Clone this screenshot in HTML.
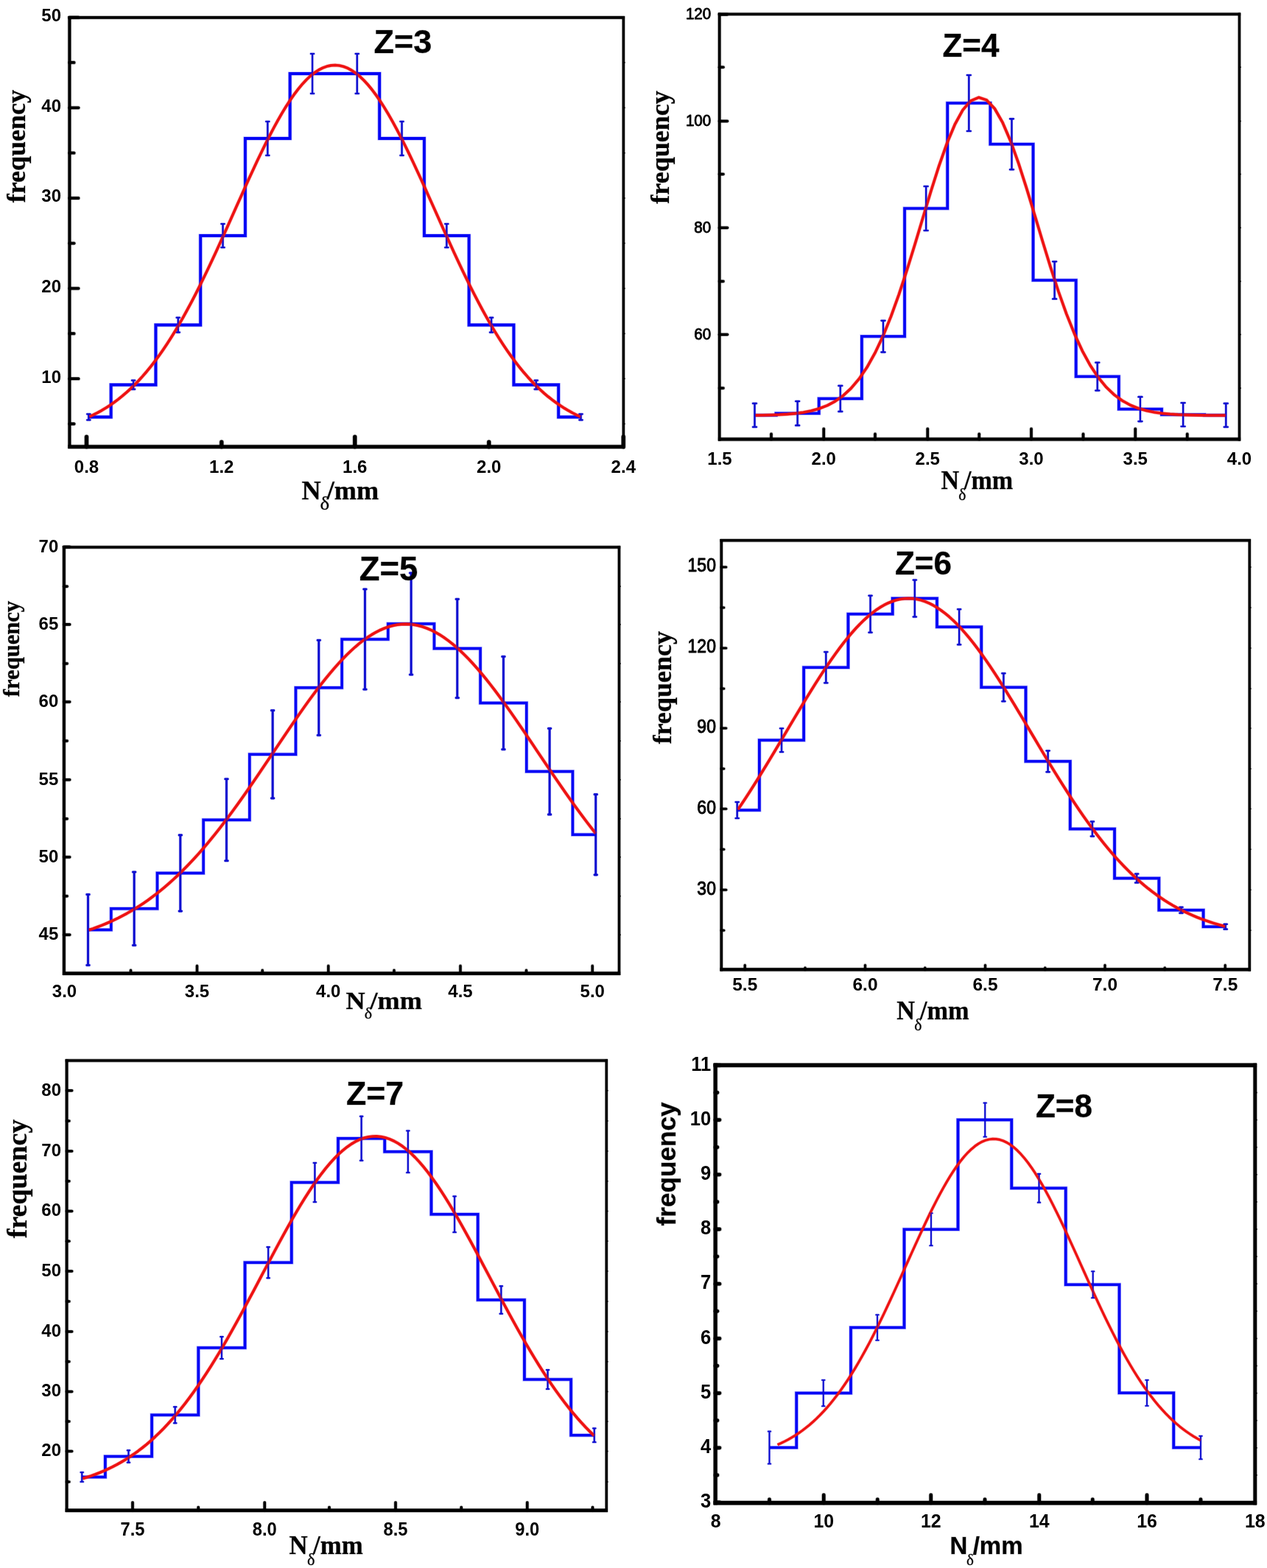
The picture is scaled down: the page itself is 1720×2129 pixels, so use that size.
<!DOCTYPE html>
<html lang="en">
<head>
<meta charset="utf-8">
<title>Frequency distributions Z=3 to Z=8</title>
<style>
html,body{margin:0;padding:0;background:#fff;}
body{width:1720px;height:2129px;overflow:hidden;}
svg{display:block;}
text{fill:#000;}
</style>
</head>
<body>
<svg width="1720" height="2129" viewBox="0 0 1720 2129">
<rect x="0" y="0" width="1720" height="2129" fill="#fff"/>
<g class="panel">
<path d="M120.3 566.25 H150.68 V522.5 H211.43 V441.25 H272.18 V320 H332.93 V188 H393.68 V100 H454.43 V100 H515.17 V188 H575.92 V320 H636.67 V441.25 H697.42 V522.5 H758.17 V566.25 H788.55" fill="none" stroke="#0505f5" stroke-opacity="0.38" stroke-width="5.1" stroke-linejoin="miter" stroke-linecap="butt"/>
<path d="M120.3 566.25 H150.68 V522.5 H211.43 V441.25 H272.18 V320 H332.93 V188 H393.68 V100 H454.43 V100 H515.17 V188 H575.92 V320 H636.67 V441.25 H697.42 V522.5 H758.17 V566.25 H788.55" fill="none" stroke="#0505f5" stroke-width="3.8" stroke-linejoin="miter" stroke-linecap="butt"/>
<path d="M120.3 562.25V570.25M118.2 562.25H122.4M118.2 570.25H122.4M181.05 516.5V528.5M178.95 516.5H183.15M178.95 528.5H183.15M241.8 431.25V451.25M239.7 431.25H243.9M239.7 451.25H243.9M302.55 304V336M300.45 304H304.65M300.45 336H304.65M363.3 165V211M361.2 165H365.4M361.2 211H365.4M424.05 73V127M421.95 73H426.15M421.95 127H426.15M484.8 73V127M482.7 73H486.9M482.7 127H486.9M545.55 165V211M543.45 165H547.65M543.45 211H547.65M606.3 304V336M604.2 304H608.4M604.2 336H608.4M667.05 431.25V451.25M664.95 431.25H669.15M664.95 451.25H669.15M727.8 516.5V528.5M725.7 516.5H729.9M725.7 528.5H729.9M788.55 562.25V570.25M786.45 562.25H790.65M786.45 570.25H790.65" fill="none" stroke="#0c0cd0" stroke-opacity="0.38" stroke-width="3.4" stroke-linejoin="miter" stroke-linecap="round"/>
<path d="M120.3 562.25V570.25M118.2 562.25H122.4M118.2 570.25H122.4M181.05 516.5V528.5M178.95 516.5H183.15M178.95 528.5H183.15M241.8 431.25V451.25M239.7 431.25H243.9M239.7 451.25H243.9M302.55 304V336M300.45 304H304.65M300.45 336H304.65M363.3 165V211M361.2 165H365.4M361.2 211H365.4M424.05 73V127M421.95 73H426.15M421.95 127H426.15M484.8 73V127M482.7 73H486.9M482.7 127H486.9M545.55 165V211M543.45 165H547.65M543.45 211H547.65M606.3 304V336M604.2 304H608.4M604.2 336H608.4M667.05 431.25V451.25M664.95 431.25H669.15M664.95 451.25H669.15M727.8 516.5V528.5M725.7 516.5H729.9M725.7 528.5H729.9M788.55 562.25V570.25M786.45 562.25H790.65M786.45 570.25H790.65" fill="none" stroke="#0c0cd0" stroke-width="2.1" stroke-linejoin="miter" stroke-linecap="round"/>
<polyline points="121.3,565.84 126.86,563.22 132.42,560.37 137.98,557.3 143.54,553.97 149.1,550.39 154.66,546.53 160.23,542.39 165.79,537.95 171.35,533.2 176.91,528.13 182.47,522.72 188.03,516.98 193.59,510.89 199.15,504.45 204.71,497.64 210.27,490.46 215.83,482.91 221.4,474.98 226.96,466.69 232.52,458.02 238.08,448.98 243.64,439.58 249.2,429.83 254.76,419.74 260.32,409.32 265.88,398.58 271.44,387.56 277,376.25 282.56,364.7 288.12,352.92 293.69,340.95 299.25,328.81 304.81,316.54 310.37,304.17 315.93,291.75 321.49,279.3 327.05,266.89 332.61,254.53 338.17,242.29 343.73,230.21 349.29,218.33 354.86,206.7 360.42,195.36 365.98,184.37 371.54,173.77 377.1,163.61 382.66,153.93 388.22,144.77 393.78,136.18 399.34,128.2 404.9,120.86 410.46,114.2 416.02,108.26 421.59,103.05 427.15,98.61 432.71,94.95 438.27,92.1 443.83,90.07 449.39,88.87 454.95,88.5 460.51,88.97 466.07,90.28 471.63,92.41 477.19,95.37 482.75,99.12 488.32,103.66 493.88,108.96 499.44,115 505,121.75 510.56,129.17 516.12,137.23 521.68,145.89 527.24,155.12 532.8,164.86 538.36,175.08 543.92,185.73 549.48,196.77 555.05,208.15 560.61,219.81 566.17,231.72 571.73,243.83 577.29,256.08 582.85,268.45 588.41,280.87 593.97,293.31 599.53,305.73 605.09,318.09 610.65,330.34 616.21,342.46 621.78,354.41 627.34,366.17 632.9,377.69 638.46,388.96 644.02,399.95 649.58,410.65 655.14,421.03 660.7,431.08 666.26,440.79 671.82,450.14 677.38,459.13 682.94,467.75 688.5,476 694.07,483.88 699.63,491.38 705.19,498.51 710.75,505.28 716.31,511.68 721.87,517.73 727.43,523.42 732.99,528.78 738.55,533.81 744.11,538.52 749.67,542.92 755.24,547.03 760.8,550.85 766.36,554.4 771.92,557.7 777.48,560.74 783.04,563.56 788.6,566.15" fill="none" stroke="#ee1212" stroke-opacity="0.38" stroke-width="4.9" stroke-linejoin="round" stroke-linecap="butt"/>
<polyline points="121.3,565.84 126.86,563.22 132.42,560.37 137.98,557.3 143.54,553.97 149.1,550.39 154.66,546.53 160.23,542.39 165.79,537.95 171.35,533.2 176.91,528.13 182.47,522.72 188.03,516.98 193.59,510.89 199.15,504.45 204.71,497.64 210.27,490.46 215.83,482.91 221.4,474.98 226.96,466.69 232.52,458.02 238.08,448.98 243.64,439.58 249.2,429.83 254.76,419.74 260.32,409.32 265.88,398.58 271.44,387.56 277,376.25 282.56,364.7 288.12,352.92 293.69,340.95 299.25,328.81 304.81,316.54 310.37,304.17 315.93,291.75 321.49,279.3 327.05,266.89 332.61,254.53 338.17,242.29 343.73,230.21 349.29,218.33 354.86,206.7 360.42,195.36 365.98,184.37 371.54,173.77 377.1,163.61 382.66,153.93 388.22,144.77 393.78,136.18 399.34,128.2 404.9,120.86 410.46,114.2 416.02,108.26 421.59,103.05 427.15,98.61 432.71,94.95 438.27,92.1 443.83,90.07 449.39,88.87 454.95,88.5 460.51,88.97 466.07,90.28 471.63,92.41 477.19,95.37 482.75,99.12 488.32,103.66 493.88,108.96 499.44,115 505,121.75 510.56,129.17 516.12,137.23 521.68,145.89 527.24,155.12 532.8,164.86 538.36,175.08 543.92,185.73 549.48,196.77 555.05,208.15 560.61,219.81 566.17,231.72 571.73,243.83 577.29,256.08 582.85,268.45 588.41,280.87 593.97,293.31 599.53,305.73 605.09,318.09 610.65,330.34 616.21,342.46 621.78,354.41 627.34,366.17 632.9,377.69 638.46,388.96 644.02,399.95 649.58,410.65 655.14,421.03 660.7,431.08 666.26,440.79 671.82,450.14 677.38,459.13 682.94,467.75 688.5,476 694.07,483.88 699.63,491.38 705.19,498.51 710.75,505.28 716.31,511.68 721.87,517.73 727.43,523.42 732.99,528.78 738.55,533.81 744.11,538.52 749.67,542.92 755.24,547.03 760.8,550.85 766.36,554.4 771.92,557.7 777.48,560.74 783.04,563.56 788.6,566.15" fill="none" stroke="#ee1212" stroke-width="3.6" stroke-linejoin="round" stroke-linecap="butt"/>
<path d="M120.3 562.25V570.25M118.2 562.25H122.4M118.2 570.25H122.4M181.05 516.5V528.5M178.95 516.5H183.15M178.95 528.5H183.15M241.8 431.25V451.25M239.7 431.25H243.9M239.7 451.25H243.9M302.55 304V336M300.45 304H304.65M300.45 336H304.65M363.3 165V211M361.2 165H365.4M361.2 211H365.4M424.05 73V127M421.95 73H426.15M421.95 127H426.15M484.8 73V127M482.7 73H486.9M482.7 127H486.9M545.55 165V211M543.45 165H547.65M543.45 211H547.65M606.3 304V336M604.2 304H608.4M604.2 336H608.4M667.05 431.25V451.25M664.95 431.25H669.15M664.95 451.25H669.15M727.8 516.5V528.5M725.7 516.5H729.9M725.7 528.5H729.9M788.55 562.25V570.25M786.45 562.25H790.65M786.45 570.25H790.65" fill="none" stroke="#0c0cd0" stroke-opacity="0.55" stroke-width="2.1" stroke-linecap="round"/>
<line x1="94.4" y1="21.95" x2="94.4" y2="609" stroke="#000" stroke-opacity="0.38" stroke-width="5.2" stroke-linecap="butt"/>
<line x1="94.4" y1="21.95" x2="94.4" y2="609" stroke="#000" stroke-width="3.9" stroke-linecap="butt"/>
<line x1="846.4" y1="21.95" x2="846.4" y2="609" stroke="#000" stroke-opacity="0.38" stroke-width="4.6" stroke-linecap="butt"/>
<line x1="846.4" y1="21.95" x2="846.4" y2="609" stroke="#000" stroke-width="3.3" stroke-linecap="butt"/>
<line x1="92.45" y1="23.8" x2="848.05" y2="23.8" stroke="#000" stroke-opacity="0.38" stroke-width="5" stroke-linecap="butt"/>
<line x1="92.45" y1="23.8" x2="848.05" y2="23.8" stroke="#000" stroke-width="3.7" stroke-linecap="butt"/>
<line x1="92.45" y1="606.6" x2="848.05" y2="606.6" stroke="#000" stroke-opacity="0.38" stroke-width="6.1" stroke-linecap="butt"/>
<line x1="92.45" y1="606.6" x2="848.05" y2="606.6" stroke="#000" stroke-width="4.8" stroke-linecap="butt"/>
<line x1="94.4" y1="23.75" x2="106.5" y2="23.75" stroke="#000" stroke-opacity="0.38" stroke-width="5.1" stroke-linecap="round"/>
<line x1="94.4" y1="23.75" x2="106.5" y2="23.75" stroke="#000" stroke-width="3.8" stroke-linecap="round"/>
<line x1="94.4" y1="146.3" x2="106.5" y2="146.3" stroke="#000" stroke-opacity="0.38" stroke-width="5.1" stroke-linecap="round"/>
<line x1="94.4" y1="146.3" x2="106.5" y2="146.3" stroke="#000" stroke-width="3.8" stroke-linecap="round"/>
<line x1="94.4" y1="269" x2="106.5" y2="269" stroke="#000" stroke-opacity="0.38" stroke-width="5.1" stroke-linecap="round"/>
<line x1="94.4" y1="269" x2="106.5" y2="269" stroke="#000" stroke-width="3.8" stroke-linecap="round"/>
<line x1="94.4" y1="391.6" x2="106.5" y2="391.6" stroke="#000" stroke-opacity="0.38" stroke-width="5.1" stroke-linecap="round"/>
<line x1="94.4" y1="391.6" x2="106.5" y2="391.6" stroke="#000" stroke-width="3.8" stroke-linecap="round"/>
<line x1="94.4" y1="514.2" x2="106.5" y2="514.2" stroke="#000" stroke-opacity="0.38" stroke-width="5.1" stroke-linecap="round"/>
<line x1="94.4" y1="514.2" x2="106.5" y2="514.2" stroke="#000" stroke-width="3.8" stroke-linecap="round"/>
<line x1="94.4" y1="84.9" x2="100.5" y2="84.9" stroke="#000" stroke-opacity="0.38" stroke-width="5.1" stroke-linecap="round"/>
<line x1="94.4" y1="84.9" x2="100.5" y2="84.9" stroke="#000" stroke-width="3.8" stroke-linecap="round"/>
<line x1="94.4" y1="207.7" x2="100.5" y2="207.7" stroke="#000" stroke-opacity="0.38" stroke-width="5.1" stroke-linecap="round"/>
<line x1="94.4" y1="207.7" x2="100.5" y2="207.7" stroke="#000" stroke-width="3.8" stroke-linecap="round"/>
<line x1="94.4" y1="330.3" x2="100.5" y2="330.3" stroke="#000" stroke-opacity="0.38" stroke-width="5.1" stroke-linecap="round"/>
<line x1="94.4" y1="330.3" x2="100.5" y2="330.3" stroke="#000" stroke-width="3.8" stroke-linecap="round"/>
<line x1="94.4" y1="452.9" x2="100.5" y2="452.9" stroke="#000" stroke-opacity="0.38" stroke-width="5.1" stroke-linecap="round"/>
<line x1="94.4" y1="452.9" x2="100.5" y2="452.9" stroke="#000" stroke-width="3.8" stroke-linecap="round"/>
<line x1="94.4" y1="575.5" x2="100.5" y2="575.5" stroke="#000" stroke-opacity="0.38" stroke-width="5.1" stroke-linecap="round"/>
<line x1="94.4" y1="575.5" x2="100.5" y2="575.5" stroke="#000" stroke-width="3.8" stroke-linecap="round"/>
<line x1="846.4" y1="146.3" x2="848.65" y2="146.3" stroke="#000" stroke-width="1.6" stroke-linecap="butt"/>
<line x1="846.4" y1="269" x2="848.65" y2="269" stroke="#000" stroke-width="1.6" stroke-linecap="butt"/>
<line x1="846.4" y1="391.6" x2="848.65" y2="391.6" stroke="#000" stroke-width="1.6" stroke-linecap="butt"/>
<line x1="846.4" y1="514.2" x2="848.65" y2="514.2" stroke="#000" stroke-width="1.6" stroke-linecap="butt"/>
<line x1="846.4" y1="84.9" x2="848.65" y2="84.9" stroke="#000" stroke-width="1.6" stroke-linecap="butt"/>
<line x1="846.4" y1="207.7" x2="848.65" y2="207.7" stroke="#000" stroke-width="1.6" stroke-linecap="butt"/>
<line x1="846.4" y1="330.3" x2="848.65" y2="330.3" stroke="#000" stroke-width="1.6" stroke-linecap="butt"/>
<line x1="846.4" y1="452.9" x2="848.65" y2="452.9" stroke="#000" stroke-width="1.6" stroke-linecap="butt"/>
<line x1="846.4" y1="575.5" x2="848.65" y2="575.5" stroke="#000" stroke-width="1.6" stroke-linecap="butt"/>
<line x1="117.5" y1="606.6" x2="117.5" y2="593.2" stroke="#000" stroke-opacity="0.38" stroke-width="6.5" stroke-linecap="round"/>
<line x1="117.5" y1="606.6" x2="117.5" y2="593.2" stroke="#000" stroke-width="5.2" stroke-linecap="round"/>
<line x1="300.75" y1="606.6" x2="300.75" y2="600.2" stroke="#000" stroke-opacity="0.38" stroke-width="6.5" stroke-linecap="round"/>
<line x1="300.75" y1="606.6" x2="300.75" y2="600.2" stroke="#000" stroke-width="5.2" stroke-linecap="round"/>
<line x1="481.75" y1="606.6" x2="481.75" y2="593.2" stroke="#000" stroke-opacity="0.38" stroke-width="6.5" stroke-linecap="round"/>
<line x1="481.75" y1="606.6" x2="481.75" y2="593.2" stroke="#000" stroke-width="5.2" stroke-linecap="round"/>
<line x1="663.75" y1="606.6" x2="663.75" y2="600.2" stroke="#000" stroke-opacity="0.38" stroke-width="6.5" stroke-linecap="round"/>
<line x1="663.75" y1="606.6" x2="663.75" y2="600.2" stroke="#000" stroke-width="5.2" stroke-linecap="round"/>
<line x1="846.3" y1="606.6" x2="846.3" y2="593.2" stroke="#000" stroke-opacity="0.38" stroke-width="6.5" stroke-linecap="round"/>
<line x1="846.3" y1="606.6" x2="846.3" y2="593.2" stroke="#000" stroke-width="5.2" stroke-linecap="round"/>
<text x="83" y="29.24" text-anchor="end" font-family='"Liberation Sans", Arial, Helvetica, sans-serif' font-weight="bold" font-size="24">50</text>
<text x="83" y="151.79" text-anchor="end" font-family='"Liberation Sans", Arial, Helvetica, sans-serif' font-weight="bold" font-size="24">40</text>
<text x="83" y="274.49" text-anchor="end" font-family='"Liberation Sans", Arial, Helvetica, sans-serif' font-weight="bold" font-size="24">30</text>
<text x="83" y="397.09" text-anchor="end" font-family='"Liberation Sans", Arial, Helvetica, sans-serif' font-weight="bold" font-size="24">20</text>
<text x="83" y="519.69" text-anchor="end" font-family='"Liberation Sans", Arial, Helvetica, sans-serif' font-weight="bold" font-size="24">10</text>
<text x="117.5" y="642" text-anchor="middle" font-family='"Liberation Sans", Arial, Helvetica, sans-serif' font-weight="bold" font-size="24">0.8</text>
<text x="300.75" y="642" text-anchor="middle" font-family='"Liberation Sans", Arial, Helvetica, sans-serif' font-weight="bold" font-size="24">1.2</text>
<text x="481.75" y="642" text-anchor="middle" font-family='"Liberation Sans", Arial, Helvetica, sans-serif' font-weight="bold" font-size="24">1.6</text>
<text x="663.75" y="642" text-anchor="middle" font-family='"Liberation Sans", Arial, Helvetica, sans-serif' font-weight="bold" font-size="24">2.0</text>
<text x="846.3" y="642" text-anchor="middle" font-family='"Liberation Sans", Arial, Helvetica, sans-serif' font-weight="bold" font-size="24">2.4</text>
<text x="547" y="72.4" text-anchor="middle" font-family='"Liberation Sans", Arial, Helvetica, sans-serif' font-weight="bold" font-size="45" stroke="#000" stroke-opacity="0.35" stroke-width="0.9" paint-order="stroke" stroke-linejoin="round">Z=3</text>
<text transform="translate(34.2 198.7) rotate(-90)" text-anchor="middle" font-family='"Liberation Serif", "Times New Roman", Times, serif' font-weight="bold" font-size="36" stroke="#000" stroke-opacity="0.35" stroke-width="0.9" paint-order="stroke">frequency</text>
<text transform="translate(409.6 677.7) scale(1.037 1)" font-family='"Liberation Serif", "Times New Roman", Times, serif' font-weight="bold" font-size="35" stroke="#000" stroke-opacity="0.35" stroke-width="0.9" paint-order="stroke">N<tspan dx="-1.2" dy="14.5" font-size="26" font-weight="normal" font-family='"Liberation Serif", "Times New Roman", Times, serif'>δ</tspan><tspan dx="-3.5" dy="-14.5">/mm</tspan></text>
</g>
<g class="panel">
<path d="M1024.5 563.75 H1053.58 V561.25 H1111.74 V541.25 H1169.9 V456.75 H1228.06 V283 H1286.22 V140 H1344.38 V195.75 H1402.54 V380.5 H1460.7 V511.25 H1518.86 V555.5 H1577.02 V563 H1635.18 V563.75 H1664.26" fill="none" stroke="#0505f5" stroke-opacity="0.38" stroke-width="5" stroke-linejoin="miter" stroke-linecap="butt"/>
<path d="M1024.5 563.75 H1053.58 V561.25 H1111.74 V541.25 H1169.9 V456.75 H1228.06 V283 H1286.22 V140 H1344.38 V195.75 H1402.54 V380.5 H1460.7 V511.25 H1518.86 V555.5 H1577.02 V563 H1635.18 V563.75 H1664.26" fill="none" stroke="#0505f5" stroke-width="3.7" stroke-linejoin="miter" stroke-linecap="butt"/>
<path d="M1024.5 547.75V579.75M1022 547.75H1027M1022 579.75H1027M1082.66 544.85V577.65M1080.16 544.85H1085.16M1080.16 577.65H1085.16M1140.82 523.75V558.75M1138.32 523.75H1143.32M1138.32 558.75H1143.32M1198.98 435.35V478.15M1196.48 435.35H1201.48M1196.48 478.15H1201.48M1257.14 253V313M1254.64 253H1259.64M1254.64 313H1259.64M1315.3 102V178M1312.8 102H1317.8M1312.8 178H1317.8M1373.46 161.35V230.15M1370.96 161.35H1375.96M1370.96 230.15H1375.96M1431.62 355.1V405.9M1429.12 355.1H1434.12M1429.12 405.9H1434.12M1489.78 492.25V530.25M1487.28 492.25H1492.28M1487.28 530.25H1492.28M1547.94 538.9V572.1M1545.44 538.9H1550.44M1545.44 572.1H1550.44M1606.1 547V579M1603.6 547H1608.6M1603.6 579H1608.6M1664.26 547.75V579.75M1661.76 547.75H1666.76M1661.76 579.75H1666.76" fill="none" stroke="#0c0cd0" stroke-opacity="0.38" stroke-width="3.4" stroke-linejoin="miter" stroke-linecap="round"/>
<path d="M1024.5 547.75V579.75M1022 547.75H1027M1022 579.75H1027M1082.66 544.85V577.65M1080.16 544.85H1085.16M1080.16 577.65H1085.16M1140.82 523.75V558.75M1138.32 523.75H1143.32M1138.32 558.75H1143.32M1198.98 435.35V478.15M1196.48 435.35H1201.48M1196.48 478.15H1201.48M1257.14 253V313M1254.64 253H1259.64M1254.64 313H1259.64M1315.3 102V178M1312.8 102H1317.8M1312.8 178H1317.8M1373.46 161.35V230.15M1370.96 161.35H1375.96M1370.96 230.15H1375.96M1431.62 355.1V405.9M1429.12 355.1H1434.12M1429.12 405.9H1434.12M1489.78 492.25V530.25M1487.28 492.25H1492.28M1487.28 530.25H1492.28M1547.94 538.9V572.1M1545.44 538.9H1550.44M1545.44 572.1H1550.44M1606.1 547V579M1603.6 547H1608.6M1603.6 579H1608.6M1664.26 547.75V579.75M1661.76 547.75H1666.76M1661.76 579.75H1666.76" fill="none" stroke="#0c0cd0" stroke-width="2.1" stroke-linejoin="miter" stroke-linecap="round"/>
<polyline points="1025.5,563.86 1036.33,563.7 1047.15,563.43 1057.98,563.02 1068.81,562.37 1079.63,561.39 1090.46,559.93 1101.28,557.81 1112.11,554.79 1122.94,550.59 1133.76,544.85 1144.59,537.19 1155.42,527.19 1166.24,514.44 1177.07,498.55 1187.89,479.21 1198.72,456.23 1209.55,429.62 1220.37,399.62 1231.2,366.73 1242.03,331.72 1252.85,295.68 1263.68,259.91 1274.5,225.87 1285.33,195.14 1296.16,169.21 1306.98,149.44 1317.81,136.91 1328.64,132.32 1339.46,135.91 1350.29,147.5 1361.11,166.43 1371.94,191.67 1382.77,221.89 1393.59,255.6 1404.42,291.25 1415.25,327.33 1426.07,362.52 1436.9,395.73 1447.72,426.12 1458.55,453.16 1469.38,476.58 1480.2,496.37 1491.03,512.67 1501.86,525.79 1512.68,536.1 1523.51,544.02 1534.33,549.97 1545.16,554.35 1555.99,557.5 1566.81,559.71 1577.64,561.24 1588.47,562.27 1599.29,562.95 1610.12,563.39 1620.94,563.67 1631.77,563.85 1642.6,563.95 1653.42,564.02 1664.25,564.05" fill="none" stroke="#ee1212" stroke-opacity="0.38" stroke-width="4.9" stroke-linejoin="round" stroke-linecap="butt"/>
<polyline points="1025.5,563.86 1036.33,563.7 1047.15,563.43 1057.98,563.02 1068.81,562.37 1079.63,561.39 1090.46,559.93 1101.28,557.81 1112.11,554.79 1122.94,550.59 1133.76,544.85 1144.59,537.19 1155.42,527.19 1166.24,514.44 1177.07,498.55 1187.89,479.21 1198.72,456.23 1209.55,429.62 1220.37,399.62 1231.2,366.73 1242.03,331.72 1252.85,295.68 1263.68,259.91 1274.5,225.87 1285.33,195.14 1296.16,169.21 1306.98,149.44 1317.81,136.91 1328.64,132.32 1339.46,135.91 1350.29,147.5 1361.11,166.43 1371.94,191.67 1382.77,221.89 1393.59,255.6 1404.42,291.25 1415.25,327.33 1426.07,362.52 1436.9,395.73 1447.72,426.12 1458.55,453.16 1469.38,476.58 1480.2,496.37 1491.03,512.67 1501.86,525.79 1512.68,536.1 1523.51,544.02 1534.33,549.97 1545.16,554.35 1555.99,557.5 1566.81,559.71 1577.64,561.24 1588.47,562.27 1599.29,562.95 1610.12,563.39 1620.94,563.67 1631.77,563.85 1642.6,563.95 1653.42,564.02 1664.25,564.05" fill="none" stroke="#ee1212" stroke-width="3.6" stroke-linejoin="round" stroke-linecap="butt"/>
<path d="M1024.5 547.75V579.75M1022 547.75H1027M1022 579.75H1027M1082.66 544.85V577.65M1080.16 544.85H1085.16M1080.16 577.65H1085.16M1140.82 523.75V558.75M1138.32 523.75H1143.32M1138.32 558.75H1143.32M1198.98 435.35V478.15M1196.48 435.35H1201.48M1196.48 478.15H1201.48M1257.14 253V313M1254.64 253H1259.64M1254.64 313H1259.64M1315.3 102V178M1312.8 102H1317.8M1312.8 178H1317.8M1373.46 161.35V230.15M1370.96 161.35H1375.96M1370.96 230.15H1375.96M1431.62 355.1V405.9M1429.12 355.1H1434.12M1429.12 405.9H1434.12M1489.78 492.25V530.25M1487.28 492.25H1492.28M1487.28 530.25H1492.28M1547.94 538.9V572.1M1545.44 538.9H1550.44M1545.44 572.1H1550.44M1606.1 547V579M1603.6 547H1608.6M1603.6 579H1608.6M1664.26 547.75V579.75M1661.76 547.75H1666.76M1661.76 579.75H1666.76" fill="none" stroke="#0c0cd0" stroke-opacity="0.55" stroke-width="2.1" stroke-linecap="round"/>
<line x1="976.7" y1="17.5" x2="976.7" y2="598.55" stroke="#000" stroke-opacity="0.38" stroke-width="4.9" stroke-linecap="butt"/>
<line x1="976.7" y1="17.5" x2="976.7" y2="598.55" stroke="#000" stroke-width="3.6" stroke-linecap="butt"/>
<line x1="1682.5" y1="17.5" x2="1682.5" y2="598.55" stroke="#000" stroke-opacity="0.38" stroke-width="4.6" stroke-linecap="butt"/>
<line x1="1682.5" y1="17.5" x2="1682.5" y2="598.55" stroke="#000" stroke-width="3.3" stroke-linecap="butt"/>
<line x1="974.9" y1="19.3" x2="1684.15" y2="19.3" stroke="#000" stroke-opacity="0.38" stroke-width="4.9" stroke-linecap="butt"/>
<line x1="974.9" y1="19.3" x2="1684.15" y2="19.3" stroke="#000" stroke-width="3.6" stroke-linecap="butt"/>
<line x1="974.9" y1="596.4" x2="1684.15" y2="596.4" stroke="#000" stroke-opacity="0.38" stroke-width="5.6" stroke-linecap="butt"/>
<line x1="974.9" y1="596.4" x2="1684.15" y2="596.4" stroke="#000" stroke-width="4.3" stroke-linecap="butt"/>
<line x1="976.7" y1="19.6" x2="987.4" y2="19.6" stroke="#000" stroke-opacity="0.38" stroke-width="4.9" stroke-linecap="round"/>
<line x1="976.7" y1="19.6" x2="987.4" y2="19.6" stroke="#000" stroke-width="3.6" stroke-linecap="round"/>
<line x1="976.7" y1="164.5" x2="987.4" y2="164.5" stroke="#000" stroke-opacity="0.38" stroke-width="4.9" stroke-linecap="round"/>
<line x1="976.7" y1="164.5" x2="987.4" y2="164.5" stroke="#000" stroke-width="3.6" stroke-linecap="round"/>
<line x1="976.7" y1="309.25" x2="987.4" y2="309.25" stroke="#000" stroke-opacity="0.38" stroke-width="4.9" stroke-linecap="round"/>
<line x1="976.7" y1="309.25" x2="987.4" y2="309.25" stroke="#000" stroke-width="3.6" stroke-linecap="round"/>
<line x1="976.7" y1="454.25" x2="987.4" y2="454.25" stroke="#000" stroke-opacity="0.38" stroke-width="4.9" stroke-linecap="round"/>
<line x1="976.7" y1="454.25" x2="987.4" y2="454.25" stroke="#000" stroke-width="3.6" stroke-linecap="round"/>
<line x1="976.7" y1="91.25" x2="981.9" y2="91.25" stroke="#000" stroke-opacity="0.38" stroke-width="4.9" stroke-linecap="round"/>
<line x1="976.7" y1="91.25" x2="981.9" y2="91.25" stroke="#000" stroke-width="3.6" stroke-linecap="round"/>
<line x1="976.7" y1="236.5" x2="981.9" y2="236.5" stroke="#000" stroke-opacity="0.38" stroke-width="4.9" stroke-linecap="round"/>
<line x1="976.7" y1="236.5" x2="981.9" y2="236.5" stroke="#000" stroke-width="3.6" stroke-linecap="round"/>
<line x1="976.7" y1="382" x2="981.9" y2="382" stroke="#000" stroke-opacity="0.38" stroke-width="4.9" stroke-linecap="round"/>
<line x1="976.7" y1="382" x2="981.9" y2="382" stroke="#000" stroke-width="3.6" stroke-linecap="round"/>
<line x1="976.7" y1="527" x2="981.9" y2="527" stroke="#000" stroke-opacity="0.38" stroke-width="4.9" stroke-linecap="round"/>
<line x1="976.7" y1="527" x2="981.9" y2="527" stroke="#000" stroke-width="3.6" stroke-linecap="round"/>
<line x1="1682.5" y1="164.5" x2="1684.75" y2="164.5" stroke="#000" stroke-width="1.6" stroke-linecap="butt"/>
<line x1="1682.5" y1="309.25" x2="1684.75" y2="309.25" stroke="#000" stroke-width="1.6" stroke-linecap="butt"/>
<line x1="1682.5" y1="454.25" x2="1684.75" y2="454.25" stroke="#000" stroke-width="1.6" stroke-linecap="butt"/>
<line x1="1682.5" y1="91.25" x2="1684.75" y2="91.25" stroke="#000" stroke-width="1.6" stroke-linecap="butt"/>
<line x1="1682.5" y1="236.5" x2="1684.75" y2="236.5" stroke="#000" stroke-width="1.6" stroke-linecap="butt"/>
<line x1="1682.5" y1="382" x2="1684.75" y2="382" stroke="#000" stroke-width="1.6" stroke-linecap="butt"/>
<line x1="1682.5" y1="527" x2="1684.75" y2="527" stroke="#000" stroke-width="1.6" stroke-linecap="butt"/>
<line x1="1118.25" y1="596.4" x2="1118.25" y2="582.2" stroke="#000" stroke-opacity="0.38" stroke-width="4.9" stroke-linecap="round"/>
<line x1="1118.25" y1="596.4" x2="1118.25" y2="582.2" stroke="#000" stroke-width="3.6" stroke-linecap="round"/>
<line x1="1259.25" y1="596.4" x2="1259.25" y2="582.2" stroke="#000" stroke-opacity="0.38" stroke-width="4.9" stroke-linecap="round"/>
<line x1="1259.25" y1="596.4" x2="1259.25" y2="582.2" stroke="#000" stroke-width="3.6" stroke-linecap="round"/>
<line x1="1400" y1="596.4" x2="1400" y2="582.2" stroke="#000" stroke-opacity="0.38" stroke-width="4.9" stroke-linecap="round"/>
<line x1="1400" y1="596.4" x2="1400" y2="582.2" stroke="#000" stroke-width="3.6" stroke-linecap="round"/>
<line x1="1541.25" y1="596.4" x2="1541.25" y2="582.2" stroke="#000" stroke-opacity="0.38" stroke-width="4.9" stroke-linecap="round"/>
<line x1="1541.25" y1="596.4" x2="1541.25" y2="582.2" stroke="#000" stroke-width="3.6" stroke-linecap="round"/>
<line x1="1047" y1="596.4" x2="1047" y2="589.2" stroke="#000" stroke-opacity="0.38" stroke-width="4.9" stroke-linecap="round"/>
<line x1="1047" y1="596.4" x2="1047" y2="589.2" stroke="#000" stroke-width="3.6" stroke-linecap="round"/>
<line x1="1188" y1="596.4" x2="1188" y2="589.2" stroke="#000" stroke-opacity="0.38" stroke-width="4.9" stroke-linecap="round"/>
<line x1="1188" y1="596.4" x2="1188" y2="589.2" stroke="#000" stroke-width="3.6" stroke-linecap="round"/>
<line x1="1329.25" y1="596.4" x2="1329.25" y2="589.2" stroke="#000" stroke-opacity="0.38" stroke-width="4.9" stroke-linecap="round"/>
<line x1="1329.25" y1="596.4" x2="1329.25" y2="589.2" stroke="#000" stroke-width="3.6" stroke-linecap="round"/>
<line x1="1470.5" y1="596.4" x2="1470.5" y2="589.2" stroke="#000" stroke-opacity="0.38" stroke-width="4.9" stroke-linecap="round"/>
<line x1="1470.5" y1="596.4" x2="1470.5" y2="589.2" stroke="#000" stroke-width="3.6" stroke-linecap="round"/>
<line x1="1611.75" y1="596.4" x2="1611.75" y2="589.2" stroke="#000" stroke-opacity="0.38" stroke-width="4.9" stroke-linecap="round"/>
<line x1="1611.75" y1="596.4" x2="1611.75" y2="589.2" stroke="#000" stroke-width="3.6" stroke-linecap="round"/>
<text transform="translate(965.3 25.87) scale(0.95 1)" text-anchor="end" font-family='"Liberation Sans", Arial, Helvetica, sans-serif' font-weight="normal" font-size="21.7" stroke="#000" stroke-opacity="1" stroke-width="0.9" paint-order="stroke" stroke-linejoin="round">120</text>
<text transform="translate(965.3 170.77) scale(0.95 1)" text-anchor="end" font-family='"Liberation Sans", Arial, Helvetica, sans-serif' font-weight="normal" font-size="21.7" stroke="#000" stroke-opacity="1" stroke-width="0.9" paint-order="stroke" stroke-linejoin="round">100</text>
<text transform="translate(965.3 315.52) scale(0.95 1)" text-anchor="end" font-family='"Liberation Sans", Arial, Helvetica, sans-serif' font-weight="normal" font-size="21.7" stroke="#000" stroke-opacity="1" stroke-width="0.9" paint-order="stroke" stroke-linejoin="round">80</text>
<text transform="translate(965.3 460.52) scale(0.95 1)" text-anchor="end" font-family='"Liberation Sans", Arial, Helvetica, sans-serif' font-weight="normal" font-size="21.7" stroke="#000" stroke-opacity="1" stroke-width="0.9" paint-order="stroke" stroke-linejoin="round">60</text>
<text x="977" y="631.2" text-anchor="middle" font-family='"Liberation Sans", Arial, Helvetica, sans-serif' font-weight="bold" font-size="24">1.5</text>
<text x="1118.25" y="631.2" text-anchor="middle" font-family='"Liberation Sans", Arial, Helvetica, sans-serif' font-weight="bold" font-size="24">2.0</text>
<text x="1259.25" y="631.2" text-anchor="middle" font-family='"Liberation Sans", Arial, Helvetica, sans-serif' font-weight="bold" font-size="24">2.5</text>
<text x="1400" y="631.2" text-anchor="middle" font-family='"Liberation Sans", Arial, Helvetica, sans-serif' font-weight="bold" font-size="24">3.0</text>
<text x="1541.25" y="631.2" text-anchor="middle" font-family='"Liberation Sans", Arial, Helvetica, sans-serif' font-weight="bold" font-size="24">3.5</text>
<text x="1682.5" y="631.2" text-anchor="middle" font-family='"Liberation Sans", Arial, Helvetica, sans-serif' font-weight="bold" font-size="24">4.0</text>
<text x="1318" y="76.5" text-anchor="middle" font-family='"Liberation Sans", Arial, Helvetica, sans-serif' font-weight="bold" font-size="44" stroke="#000" stroke-opacity="0.35" stroke-width="0.9" paint-order="stroke" stroke-linejoin="round">Z=4</text>
<text transform="translate(908.4 200) rotate(-90)" text-anchor="middle" font-family='"Liberation Serif", "Times New Roman", Times, serif' font-weight="bold" font-size="36" stroke="#000" stroke-opacity="0.35" stroke-width="0.9" paint-order="stroke">frequency</text>
<text transform="translate(1277.4 664) scale(0.96 1)" font-family='"Liberation Serif", "Times New Roman", Times, serif' font-weight="bold" font-size="35.5" stroke="#000" stroke-opacity="0.35" stroke-width="0.9" paint-order="stroke">N<tspan dx="-0.8" dy="14.5" font-size="22.5" font-weight="normal" font-family='"Liberation Serif", "Times New Roman", Times, serif'>δ</tspan><tspan dx="-2.5" dy="-14.5">/mm</tspan></text>
</g>
<g class="panel">
<path d="M119.5 1262.5 H150.83 V1233.75 H213.49 V1185.5 H276.15 V1113.25 H338.81 V1024.25 H401.47 V933.75 H464.13 V868 H526.79 V847 H589.45 V880.5 H652.11 V954.5 H714.77 V1047.5 H777.43 V1133.25 H808.76" fill="none" stroke="#0505f5" stroke-opacity="0.38" stroke-width="4.8" stroke-linejoin="miter" stroke-linecap="butt"/>
<path d="M119.5 1262.5 H150.83 V1233.75 H213.49 V1185.5 H276.15 V1113.25 H338.81 V1024.25 H401.47 V933.75 H464.13 V868 H526.79 V847 H589.45 V880.5 H652.11 V954.5 H714.77 V1047.5 H777.43 V1133.25 H808.76" fill="none" stroke="#0505f5" stroke-width="3.5" stroke-linejoin="miter" stroke-linecap="butt"/>
<path d="M119.5 1214.5V1310.5M117.8 1214.5H121.2M117.8 1310.5H121.2M182.16 1184V1283.5M180.46 1184H183.86M180.46 1283.5H183.86M244.82 1133.9V1237.1M243.12 1133.9H246.52M243.12 1237.1H246.52M307.48 1057.75V1168.75M305.78 1057.75H309.18M305.78 1168.75H309.18M370.14 964.65V1083.85M368.44 964.65H371.84M368.44 1083.85H371.84M432.8 869.25V998.25M431.1 869.25H434.5M431.1 998.25H434.5M495.46 800V936M493.76 800H497.16M493.76 936H497.16M558.12 778V916M556.42 778H559.82M556.42 916H559.82M620.78 813.5V947.5M619.08 813.5H622.48M619.08 947.5H622.48M683.44 891.5V1017.5M681.74 891.5H685.14M681.74 1017.5H685.14M746.1 989.1V1105.9M744.4 989.1H747.8M744.4 1105.9H747.8M808.76 1078.65V1187.85M807.06 1078.65H810.46M807.06 1187.85H810.46" fill="none" stroke="#0c0cd0" stroke-opacity="0.38" stroke-width="3.9" stroke-linejoin="miter" stroke-linecap="round"/>
<path d="M119.5 1214.5V1310.5M117.8 1214.5H121.2M117.8 1310.5H121.2M182.16 1184V1283.5M180.46 1184H183.86M180.46 1283.5H183.86M244.82 1133.9V1237.1M243.12 1133.9H246.52M243.12 1237.1H246.52M307.48 1057.75V1168.75M305.78 1057.75H309.18M305.78 1168.75H309.18M370.14 964.65V1083.85M368.44 964.65H371.84M368.44 1083.85H371.84M432.8 869.25V998.25M431.1 869.25H434.5M431.1 998.25H434.5M495.46 800V936M493.76 800H497.16M493.76 936H497.16M558.12 778V916M556.42 778H559.82M556.42 916H559.82M620.78 813.5V947.5M619.08 813.5H622.48M619.08 947.5H622.48M683.44 891.5V1017.5M681.74 891.5H685.14M681.74 1017.5H685.14M746.1 989.1V1105.9M744.4 989.1H747.8M744.4 1105.9H747.8M808.76 1078.65V1187.85M807.06 1078.65H810.46M807.06 1187.85H810.46" fill="none" stroke="#0c0cd0" stroke-width="2.6" stroke-linejoin="miter" stroke-linecap="round"/>
<polyline points="120.5,1262.8 126.24,1260.86 131.97,1258.78 137.71,1256.58 143.44,1254.24 149.18,1251.76 154.91,1249.13 160.65,1246.35 166.38,1243.41 172.12,1240.31 177.85,1237.04 183.59,1233.6 189.32,1229.98 195.06,1226.18 200.8,1222.2 206.53,1218.02 212.27,1213.66 218,1209.1 223.74,1204.34 229.47,1199.39 235.21,1194.23 240.94,1188.88 246.68,1183.32 252.41,1177.56 258.15,1171.6 263.89,1165.44 269.62,1159.09 275.36,1152.54 281.09,1145.81 286.83,1138.89 292.56,1131.79 298.3,1124.52 304.03,1117.08 309.77,1109.49 315.5,1101.75 321.24,1093.87 326.98,1085.86 332.71,1077.74 338.45,1069.51 344.18,1061.2 349.92,1052.8 355.65,1044.35 361.39,1035.84 367.12,1027.31 372.86,1018.76 378.59,1010.22 384.33,1001.69 390.06,993.21 395.8,984.79 401.54,976.44 407.27,968.19 413.01,960.06 418.74,952.07 424.48,944.23 430.21,936.57 435.95,929.11 441.68,921.87 447.42,914.86 453.15,908.1 458.89,901.62 464.62,895.43 470.36,889.55 476.1,883.99 481.83,878.78 487.57,873.93 493.3,869.44 499.04,865.35 504.77,861.64 510.51,858.35 516.24,855.47 521.98,853.03 527.71,851.01 533.45,849.44 539.19,848.31 544.92,847.63 550.66,847.4 556.39,847.62 562.13,848.3 567.86,849.42 573.6,850.98 579.33,852.99 585.07,855.43 590.8,858.3 596.54,861.59 602.27,865.29 608.01,869.38 613.75,873.86 619.48,878.71 625.22,883.91 630.95,889.46 636.69,895.34 642.42,901.52 648.16,908 653.89,914.75 659.63,921.76 665.36,929 671.1,936.46 676.84,944.12 682.57,951.95 688.31,959.94 694.04,968.07 699.78,976.32 705.51,984.66 711.25,993.08 716.98,1001.56 722.72,1010.09 728.45,1018.63 734.19,1027.18 739.92,1035.71 745.66,1044.22 751.4,1052.67 757.13,1061.07 762.87,1069.39 768.6,1077.62 774.34,1085.74 780.07,1093.75 785.81,1101.63 791.54,1109.37 797.28,1116.97 803.01,1124.41 808.75,1131.68" fill="none" stroke="#ee1212" stroke-opacity="0.38" stroke-width="4.9" stroke-linejoin="round" stroke-linecap="butt"/>
<polyline points="120.5,1262.8 126.24,1260.86 131.97,1258.78 137.71,1256.58 143.44,1254.24 149.18,1251.76 154.91,1249.13 160.65,1246.35 166.38,1243.41 172.12,1240.31 177.85,1237.04 183.59,1233.6 189.32,1229.98 195.06,1226.18 200.8,1222.2 206.53,1218.02 212.27,1213.66 218,1209.1 223.74,1204.34 229.47,1199.39 235.21,1194.23 240.94,1188.88 246.68,1183.32 252.41,1177.56 258.15,1171.6 263.89,1165.44 269.62,1159.09 275.36,1152.54 281.09,1145.81 286.83,1138.89 292.56,1131.79 298.3,1124.52 304.03,1117.08 309.77,1109.49 315.5,1101.75 321.24,1093.87 326.98,1085.86 332.71,1077.74 338.45,1069.51 344.18,1061.2 349.92,1052.8 355.65,1044.35 361.39,1035.84 367.12,1027.31 372.86,1018.76 378.59,1010.22 384.33,1001.69 390.06,993.21 395.8,984.79 401.54,976.44 407.27,968.19 413.01,960.06 418.74,952.07 424.48,944.23 430.21,936.57 435.95,929.11 441.68,921.87 447.42,914.86 453.15,908.1 458.89,901.62 464.62,895.43 470.36,889.55 476.1,883.99 481.83,878.78 487.57,873.93 493.3,869.44 499.04,865.35 504.77,861.64 510.51,858.35 516.24,855.47 521.98,853.03 527.71,851.01 533.45,849.44 539.19,848.31 544.92,847.63 550.66,847.4 556.39,847.62 562.13,848.3 567.86,849.42 573.6,850.98 579.33,852.99 585.07,855.43 590.8,858.3 596.54,861.59 602.27,865.29 608.01,869.38 613.75,873.86 619.48,878.71 625.22,883.91 630.95,889.46 636.69,895.34 642.42,901.52 648.16,908 653.89,914.75 659.63,921.76 665.36,929 671.1,936.46 676.84,944.12 682.57,951.95 688.31,959.94 694.04,968.07 699.78,976.32 705.51,984.66 711.25,993.08 716.98,1001.56 722.72,1010.09 728.45,1018.63 734.19,1027.18 739.92,1035.71 745.66,1044.22 751.4,1052.67 757.13,1061.07 762.87,1069.39 768.6,1077.62 774.34,1085.74 780.07,1093.75 785.81,1101.63 791.54,1109.37 797.28,1116.97 803.01,1124.41 808.75,1131.68" fill="none" stroke="#ee1212" stroke-width="3.6" stroke-linejoin="round" stroke-linecap="butt"/>
<path d="M119.5 1214.5V1310.5M117.8 1214.5H121.2M117.8 1310.5H121.2M182.16 1184V1283.5M180.46 1184H183.86M180.46 1283.5H183.86M244.82 1133.9V1237.1M243.12 1133.9H246.52M243.12 1237.1H246.52M307.48 1057.75V1168.75M305.78 1057.75H309.18M305.78 1168.75H309.18M370.14 964.65V1083.85M368.44 964.65H371.84M368.44 1083.85H371.84M432.8 869.25V998.25M431.1 869.25H434.5M431.1 998.25H434.5M495.46 800V936M493.76 800H497.16M493.76 936H497.16M558.12 778V916M556.42 778H559.82M556.42 916H559.82M620.78 813.5V947.5M619.08 813.5H622.48M619.08 947.5H622.48M683.44 891.5V1017.5M681.74 891.5H685.14M681.74 1017.5H685.14M746.1 989.1V1105.9M744.4 989.1H747.8M744.4 1105.9H747.8M808.76 1078.65V1187.85M807.06 1078.65H810.46M807.06 1187.85H810.46" fill="none" stroke="#0c0cd0" stroke-opacity="0.55" stroke-width="2.6" stroke-linecap="round"/>
<line x1="86.9" y1="741.15" x2="86.9" y2="1323.9" stroke="#000" stroke-opacity="0.38" stroke-width="5.2" stroke-linecap="butt"/>
<line x1="86.9" y1="741.15" x2="86.9" y2="1323.9" stroke="#000" stroke-width="3.9" stroke-linecap="butt"/>
<line x1="840.5" y1="741.15" x2="840.5" y2="1323.9" stroke="#000" stroke-opacity="0.38" stroke-width="4.6" stroke-linecap="butt"/>
<line x1="840.5" y1="741.15" x2="840.5" y2="1323.9" stroke="#000" stroke-width="3.3" stroke-linecap="butt"/>
<line x1="84.95" y1="743" x2="842.15" y2="743" stroke="#000" stroke-opacity="0.38" stroke-width="5" stroke-linecap="butt"/>
<line x1="84.95" y1="743" x2="842.15" y2="743" stroke="#000" stroke-width="3.7" stroke-linecap="butt"/>
<line x1="84.95" y1="1321.7" x2="842.15" y2="1321.7" stroke="#000" stroke-opacity="0.38" stroke-width="5.7" stroke-linecap="butt"/>
<line x1="84.95" y1="1321.7" x2="842.15" y2="1321.7" stroke="#000" stroke-width="4.4" stroke-linecap="butt"/>
<line x1="86.9" y1="742.6" x2="94.6" y2="742.6" stroke="#000" stroke-opacity="0.38" stroke-width="4.9" stroke-linecap="round"/>
<line x1="86.9" y1="742.6" x2="94.6" y2="742.6" stroke="#000" stroke-width="3.6" stroke-linecap="round"/>
<line x1="86.9" y1="847.9" x2="94.6" y2="847.9" stroke="#000" stroke-opacity="0.38" stroke-width="4.9" stroke-linecap="round"/>
<line x1="86.9" y1="847.9" x2="94.6" y2="847.9" stroke="#000" stroke-width="3.6" stroke-linecap="round"/>
<line x1="86.9" y1="953" x2="94.6" y2="953" stroke="#000" stroke-opacity="0.38" stroke-width="4.9" stroke-linecap="round"/>
<line x1="86.9" y1="953" x2="94.6" y2="953" stroke="#000" stroke-width="3.6" stroke-linecap="round"/>
<line x1="86.9" y1="1058.7" x2="94.6" y2="1058.7" stroke="#000" stroke-opacity="0.38" stroke-width="4.9" stroke-linecap="round"/>
<line x1="86.9" y1="1058.7" x2="94.6" y2="1058.7" stroke="#000" stroke-width="3.6" stroke-linecap="round"/>
<line x1="86.9" y1="1163.7" x2="94.6" y2="1163.7" stroke="#000" stroke-opacity="0.38" stroke-width="4.9" stroke-linecap="round"/>
<line x1="86.9" y1="1163.7" x2="94.6" y2="1163.7" stroke="#000" stroke-width="3.6" stroke-linecap="round"/>
<line x1="86.9" y1="1269.3" x2="94.6" y2="1269.3" stroke="#000" stroke-opacity="0.38" stroke-width="4.9" stroke-linecap="round"/>
<line x1="86.9" y1="1269.3" x2="94.6" y2="1269.3" stroke="#000" stroke-width="3.6" stroke-linecap="round"/>
<line x1="86.9" y1="796.2" x2="91.1" y2="796.2" stroke="#000" stroke-opacity="0.38" stroke-width="4.9" stroke-linecap="round"/>
<line x1="86.9" y1="796.2" x2="91.1" y2="796.2" stroke="#000" stroke-width="3.6" stroke-linecap="round"/>
<line x1="86.9" y1="901" x2="91.1" y2="901" stroke="#000" stroke-opacity="0.38" stroke-width="4.9" stroke-linecap="round"/>
<line x1="86.9" y1="901" x2="91.1" y2="901" stroke="#000" stroke-width="3.6" stroke-linecap="round"/>
<line x1="86.9" y1="1006" x2="91.1" y2="1006" stroke="#000" stroke-opacity="0.38" stroke-width="4.9" stroke-linecap="round"/>
<line x1="86.9" y1="1006" x2="91.1" y2="1006" stroke="#000" stroke-width="3.6" stroke-linecap="round"/>
<line x1="86.9" y1="1111.7" x2="91.1" y2="1111.7" stroke="#000" stroke-opacity="0.38" stroke-width="4.9" stroke-linecap="round"/>
<line x1="86.9" y1="1111.7" x2="91.1" y2="1111.7" stroke="#000" stroke-width="3.6" stroke-linecap="round"/>
<line x1="86.9" y1="1216.7" x2="91.1" y2="1216.7" stroke="#000" stroke-opacity="0.38" stroke-width="4.9" stroke-linecap="round"/>
<line x1="86.9" y1="1216.7" x2="91.1" y2="1216.7" stroke="#000" stroke-width="3.6" stroke-linecap="round"/>
<line x1="840.5" y1="847.9" x2="842.75" y2="847.9" stroke="#000" stroke-width="1.6" stroke-linecap="butt"/>
<line x1="840.5" y1="953" x2="842.75" y2="953" stroke="#000" stroke-width="1.6" stroke-linecap="butt"/>
<line x1="840.5" y1="1058.7" x2="842.75" y2="1058.7" stroke="#000" stroke-width="1.6" stroke-linecap="butt"/>
<line x1="840.5" y1="1163.7" x2="842.75" y2="1163.7" stroke="#000" stroke-width="1.6" stroke-linecap="butt"/>
<line x1="840.5" y1="1269.3" x2="842.75" y2="1269.3" stroke="#000" stroke-width="1.6" stroke-linecap="butt"/>
<line x1="840.5" y1="796.2" x2="842.75" y2="796.2" stroke="#000" stroke-width="1.6" stroke-linecap="butt"/>
<line x1="840.5" y1="901" x2="842.75" y2="901" stroke="#000" stroke-width="1.6" stroke-linecap="butt"/>
<line x1="840.5" y1="1006" x2="842.75" y2="1006" stroke="#000" stroke-width="1.6" stroke-linecap="butt"/>
<line x1="840.5" y1="1111.7" x2="842.75" y2="1111.7" stroke="#000" stroke-width="1.6" stroke-linecap="butt"/>
<line x1="840.5" y1="1216.7" x2="842.75" y2="1216.7" stroke="#000" stroke-width="1.6" stroke-linecap="butt"/>
<line x1="267.5" y1="1321.7" x2="267.5" y2="1311.4" stroke="#000" stroke-opacity="0.38" stroke-width="4.7" stroke-linecap="round"/>
<line x1="267.5" y1="1321.7" x2="267.5" y2="1311.4" stroke="#000" stroke-width="3.4" stroke-linecap="round"/>
<line x1="445.75" y1="1321.7" x2="445.75" y2="1311.4" stroke="#000" stroke-opacity="0.38" stroke-width="4.7" stroke-linecap="round"/>
<line x1="445.75" y1="1321.7" x2="445.75" y2="1311.4" stroke="#000" stroke-width="3.4" stroke-linecap="round"/>
<line x1="625" y1="1321.7" x2="625" y2="1311.4" stroke="#000" stroke-opacity="0.38" stroke-width="4.7" stroke-linecap="round"/>
<line x1="625" y1="1321.7" x2="625" y2="1311.4" stroke="#000" stroke-width="3.4" stroke-linecap="round"/>
<line x1="804.25" y1="1321.7" x2="804.25" y2="1311.4" stroke="#000" stroke-opacity="0.38" stroke-width="4.7" stroke-linecap="round"/>
<line x1="804.25" y1="1321.7" x2="804.25" y2="1311.4" stroke="#000" stroke-width="3.4" stroke-linecap="round"/>
<line x1="177.5" y1="1321.7" x2="177.5" y2="1317.4" stroke="#000" stroke-opacity="0.38" stroke-width="4.7" stroke-linecap="round"/>
<line x1="177.5" y1="1321.7" x2="177.5" y2="1317.4" stroke="#000" stroke-width="3.4" stroke-linecap="round"/>
<line x1="356.25" y1="1321.7" x2="356.25" y2="1317.4" stroke="#000" stroke-opacity="0.38" stroke-width="4.7" stroke-linecap="round"/>
<line x1="356.25" y1="1321.7" x2="356.25" y2="1317.4" stroke="#000" stroke-width="3.4" stroke-linecap="round"/>
<line x1="535" y1="1321.7" x2="535" y2="1317.4" stroke="#000" stroke-opacity="0.38" stroke-width="4.7" stroke-linecap="round"/>
<line x1="535" y1="1321.7" x2="535" y2="1317.4" stroke="#000" stroke-width="3.4" stroke-linecap="round"/>
<line x1="714.5" y1="1321.7" x2="714.5" y2="1317.4" stroke="#000" stroke-opacity="0.38" stroke-width="4.7" stroke-linecap="round"/>
<line x1="714.5" y1="1321.7" x2="714.5" y2="1317.4" stroke="#000" stroke-width="3.4" stroke-linecap="round"/>
<text x="79.3" y="749.69" text-anchor="end" font-family='"Liberation Sans", Arial, Helvetica, sans-serif' font-weight="bold" font-size="24">70</text>
<text x="79.3" y="854.99" text-anchor="end" font-family='"Liberation Sans", Arial, Helvetica, sans-serif' font-weight="bold" font-size="24">65</text>
<text x="79.3" y="960.09" text-anchor="end" font-family='"Liberation Sans", Arial, Helvetica, sans-serif' font-weight="bold" font-size="24">60</text>
<text x="79.3" y="1065.79" text-anchor="end" font-family='"Liberation Sans", Arial, Helvetica, sans-serif' font-weight="bold" font-size="24">55</text>
<text x="79.3" y="1170.79" text-anchor="end" font-family='"Liberation Sans", Arial, Helvetica, sans-serif' font-weight="bold" font-size="24">50</text>
<text x="79.3" y="1276.39" text-anchor="end" font-family='"Liberation Sans", Arial, Helvetica, sans-serif' font-weight="bold" font-size="24">45</text>
<text x="87.5" y="1353.5" text-anchor="middle" font-family='"Liberation Sans", Arial, Helvetica, sans-serif' font-weight="bold" font-size="24">3.0</text>
<text x="267.5" y="1353.5" text-anchor="middle" font-family='"Liberation Sans", Arial, Helvetica, sans-serif' font-weight="bold" font-size="24">3.5</text>
<text x="445.75" y="1353.5" text-anchor="middle" font-family='"Liberation Sans", Arial, Helvetica, sans-serif' font-weight="bold" font-size="24">4.0</text>
<text x="625" y="1353.5" text-anchor="middle" font-family='"Liberation Sans", Arial, Helvetica, sans-serif' font-weight="bold" font-size="24">4.5</text>
<text x="804.25" y="1353.5" text-anchor="middle" font-family='"Liberation Sans", Arial, Helvetica, sans-serif' font-weight="bold" font-size="24">5.0</text>
<text x="527.5" y="788.3" text-anchor="middle" font-family='"Liberation Sans", Arial, Helvetica, sans-serif' font-weight="bold" font-size="45.5" stroke="#000" stroke-opacity="0.35" stroke-width="0.9" paint-order="stroke" stroke-linejoin="round">Z=5</text>
<text transform="translate(26.2 881) rotate(-90)" text-anchor="middle" font-family='"Liberation Serif", "Times New Roman", Times, serif' font-weight="bold" font-size="30.6" stroke="#000" stroke-opacity="0.35" stroke-width="0.9" paint-order="stroke">frequency</text>
<text transform="translate(469.6 1369.9) scale(1.05 1)" font-family='"Liberation Serif", "Times New Roman", Times, serif' font-weight="bold" font-size="34.5" stroke="#000" stroke-opacity="0.35" stroke-width="0.9" paint-order="stroke">N<tspan dx="-1" dy="13.5" font-size="21" font-weight="normal" font-family='"Liberation Serif", "Times New Roman", Times, serif'>δ</tspan><tspan dx="-2.5" dy="-13.5">/mm</tspan></text>
</g>
<g class="panel">
<path d="M1000.75 1100 H1030.88 V1005 H1091.15 V906.25 H1151.42 V833.75 H1211.69 V812.5 H1271.96 V851.25 H1332.23 V933.25 H1392.51 V1033.75 H1452.78 V1125.5 H1513.05 V1192.5 H1573.32 V1235.75 H1633.59 V1258.25 H1663.72" fill="none" stroke="#0505f5" stroke-opacity="0.38" stroke-width="5" stroke-linejoin="miter" stroke-linecap="butt"/>
<path d="M1000.75 1100 H1030.88 V1005 H1091.15 V906.25 H1151.42 V833.75 H1211.69 V812.5 H1271.96 V851.25 H1332.23 V933.25 H1392.51 V1033.75 H1452.78 V1125.5 H1513.05 V1192.5 H1573.32 V1235.75 H1633.59 V1258.25 H1663.72" fill="none" stroke="#0505f5" stroke-width="3.7" stroke-linejoin="miter" stroke-linecap="butt"/>
<path d="M1000.75 1089V1111M998.65 1089H1002.85M998.65 1111H1002.85M1061.02 989V1021M1058.92 989H1063.12M1058.92 1021H1063.12M1121.29 885.25V927.25M1119.19 885.25H1123.39M1119.19 927.25H1123.39M1181.56 808.75V858.75M1179.46 808.75H1183.66M1179.46 858.75H1183.66M1241.83 787.5V837.5M1239.73 787.5H1243.93M1239.73 837.5H1243.93M1302.1 827.25V875.25M1300 827.25H1304.2M1300 875.25H1304.2M1362.37 914.25V952.25M1360.27 914.25H1364.47M1360.27 952.25H1364.47M1422.64 1019.35V1048.15M1420.54 1019.35H1424.74M1420.54 1048.15H1424.74M1482.91 1115.5V1135.5M1480.81 1115.5H1485.01M1480.81 1135.5H1485.01M1543.18 1186.5V1198.5M1541.08 1186.5H1545.28M1541.08 1198.5H1545.28M1603.45 1231.75V1239.75M1601.35 1231.75H1605.55M1601.35 1239.75H1605.55M1663.72 1254.85V1261.65M1661.62 1254.85H1665.82M1661.62 1261.65H1665.82" fill="none" stroke="#0c0cd0" stroke-opacity="0.38" stroke-width="3.4" stroke-linejoin="miter" stroke-linecap="round"/>
<path d="M1000.75 1089V1111M998.65 1089H1002.85M998.65 1111H1002.85M1061.02 989V1021M1058.92 989H1063.12M1058.92 1021H1063.12M1121.29 885.25V927.25M1119.19 885.25H1123.39M1119.19 927.25H1123.39M1181.56 808.75V858.75M1179.46 808.75H1183.66M1179.46 858.75H1183.66M1241.83 787.5V837.5M1239.73 787.5H1243.93M1239.73 837.5H1243.93M1302.1 827.25V875.25M1300 827.25H1304.2M1300 875.25H1304.2M1362.37 914.25V952.25M1360.27 914.25H1364.47M1360.27 952.25H1364.47M1422.64 1019.35V1048.15M1420.54 1019.35H1424.74M1420.54 1048.15H1424.74M1482.91 1115.5V1135.5M1480.81 1115.5H1485.01M1480.81 1135.5H1485.01M1543.18 1186.5V1198.5M1541.08 1186.5H1545.28M1541.08 1198.5H1545.28M1603.45 1231.75V1239.75M1601.35 1231.75H1605.55M1601.35 1239.75H1605.55M1663.72 1254.85V1261.65M1661.62 1254.85H1665.82M1661.62 1261.65H1665.82" fill="none" stroke="#0c0cd0" stroke-width="2.1" stroke-linejoin="miter" stroke-linecap="round"/>
<polyline points="1001.75,1099.2 1007.27,1091.02 1012.78,1082.67 1018.3,1074.16 1023.82,1065.5 1029.33,1056.7 1034.85,1047.79 1040.37,1038.77 1045.88,1029.65 1051.4,1020.47 1056.92,1011.23 1062.43,1001.95 1067.95,992.65 1073.47,983.36 1078.98,974.09 1084.5,964.87 1090.02,955.72 1095.53,946.66 1101.05,937.71 1106.57,928.89 1112.08,920.24 1117.6,911.76 1123.12,903.5 1128.63,895.46 1134.15,887.68 1139.67,880.16 1145.18,872.95 1150.7,866.06 1156.22,859.5 1161.73,853.3 1167.25,847.48 1172.77,842.06 1178.28,837.05 1183.8,832.47 1189.32,828.33 1194.83,824.65 1200.35,821.44 1205.87,818.71 1211.38,816.46 1216.9,814.72 1222.42,813.47 1227.93,812.73 1233.45,812.5 1238.97,812.78 1244.48,813.56 1250,814.85 1255.52,816.65 1261.03,818.93 1266.55,821.71 1272.07,824.96 1277.58,828.69 1283.1,832.86 1288.62,837.48 1294.13,842.53 1299.65,847.99 1305.17,853.85 1310.68,860.08 1316.2,866.67 1321.72,873.59 1327.23,880.83 1332.75,888.37 1338.27,896.18 1343.78,904.24 1349.3,912.52 1354.82,921.01 1360.33,929.68 1365.85,938.51 1371.37,947.47 1376.88,956.55 1382.4,965.71 1387.92,974.93 1393.43,984.2 1398.95,993.5 1404.47,1002.79 1409.98,1012.07 1415.5,1021.3 1421.02,1030.48 1426.53,1039.59 1432.05,1048.6 1437.57,1057.51 1443.08,1066.29 1448.6,1074.94 1454.12,1083.43 1459.63,1091.77 1465.15,1099.93 1470.67,1107.91 1476.18,1115.7 1481.7,1123.29 1487.22,1130.68 1492.73,1137.85 1498.25,1144.81 1503.77,1151.54 1509.28,1158.06 1514.8,1164.34 1520.32,1170.4 1525.83,1176.24 1531.35,1181.85 1536.87,1187.23 1542.38,1192.38 1547.9,1197.32 1553.42,1202.04 1558.93,1206.54 1564.45,1210.83 1569.97,1214.91 1575.48,1218.79 1581,1222.47 1586.52,1225.96 1592.03,1229.26 1597.55,1232.38 1603.07,1235.32 1608.58,1238.1 1614.1,1240.72 1619.62,1243.17 1625.13,1245.48 1630.65,1247.65 1636.17,1249.67 1641.68,1251.57 1647.2,1253.34 1652.72,1254.99 1658.23,1256.53 1663.75,1257.96" fill="none" stroke="#ee1212" stroke-opacity="0.38" stroke-width="4.9" stroke-linejoin="round" stroke-linecap="butt"/>
<polyline points="1001.75,1099.2 1007.27,1091.02 1012.78,1082.67 1018.3,1074.16 1023.82,1065.5 1029.33,1056.7 1034.85,1047.79 1040.37,1038.77 1045.88,1029.65 1051.4,1020.47 1056.92,1011.23 1062.43,1001.95 1067.95,992.65 1073.47,983.36 1078.98,974.09 1084.5,964.87 1090.02,955.72 1095.53,946.66 1101.05,937.71 1106.57,928.89 1112.08,920.24 1117.6,911.76 1123.12,903.5 1128.63,895.46 1134.15,887.68 1139.67,880.16 1145.18,872.95 1150.7,866.06 1156.22,859.5 1161.73,853.3 1167.25,847.48 1172.77,842.06 1178.28,837.05 1183.8,832.47 1189.32,828.33 1194.83,824.65 1200.35,821.44 1205.87,818.71 1211.38,816.46 1216.9,814.72 1222.42,813.47 1227.93,812.73 1233.45,812.5 1238.97,812.78 1244.48,813.56 1250,814.85 1255.52,816.65 1261.03,818.93 1266.55,821.71 1272.07,824.96 1277.58,828.69 1283.1,832.86 1288.62,837.48 1294.13,842.53 1299.65,847.99 1305.17,853.85 1310.68,860.08 1316.2,866.67 1321.72,873.59 1327.23,880.83 1332.75,888.37 1338.27,896.18 1343.78,904.24 1349.3,912.52 1354.82,921.01 1360.33,929.68 1365.85,938.51 1371.37,947.47 1376.88,956.55 1382.4,965.71 1387.92,974.93 1393.43,984.2 1398.95,993.5 1404.47,1002.79 1409.98,1012.07 1415.5,1021.3 1421.02,1030.48 1426.53,1039.59 1432.05,1048.6 1437.57,1057.51 1443.08,1066.29 1448.6,1074.94 1454.12,1083.43 1459.63,1091.77 1465.15,1099.93 1470.67,1107.91 1476.18,1115.7 1481.7,1123.29 1487.22,1130.68 1492.73,1137.85 1498.25,1144.81 1503.77,1151.54 1509.28,1158.06 1514.8,1164.34 1520.32,1170.4 1525.83,1176.24 1531.35,1181.85 1536.87,1187.23 1542.38,1192.38 1547.9,1197.32 1553.42,1202.04 1558.93,1206.54 1564.45,1210.83 1569.97,1214.91 1575.48,1218.79 1581,1222.47 1586.52,1225.96 1592.03,1229.26 1597.55,1232.38 1603.07,1235.32 1608.58,1238.1 1614.1,1240.72 1619.62,1243.17 1625.13,1245.48 1630.65,1247.65 1636.17,1249.67 1641.68,1251.57 1647.2,1253.34 1652.72,1254.99 1658.23,1256.53 1663.75,1257.96" fill="none" stroke="#ee1212" stroke-width="3.6" stroke-linejoin="round" stroke-linecap="butt"/>
<path d="M1000.75 1089V1111M998.65 1089H1002.85M998.65 1111H1002.85M1061.02 989V1021M1058.92 989H1063.12M1058.92 1021H1063.12M1121.29 885.25V927.25M1119.19 885.25H1123.39M1119.19 927.25H1123.39M1181.56 808.75V858.75M1179.46 808.75H1183.66M1179.46 858.75H1183.66M1241.83 787.5V837.5M1239.73 787.5H1243.93M1239.73 837.5H1243.93M1302.1 827.25V875.25M1300 827.25H1304.2M1300 875.25H1304.2M1362.37 914.25V952.25M1360.27 914.25H1364.47M1360.27 952.25H1364.47M1422.64 1019.35V1048.15M1420.54 1019.35H1424.74M1420.54 1048.15H1424.74M1482.91 1115.5V1135.5M1480.81 1115.5H1485.01M1480.81 1135.5H1485.01M1543.18 1186.5V1198.5M1541.08 1186.5H1545.28M1541.08 1198.5H1545.28M1603.45 1231.75V1239.75M1601.35 1231.75H1605.55M1601.35 1239.75H1605.55M1663.72 1254.85V1261.65M1661.62 1254.85H1665.82M1661.62 1261.65H1665.82" fill="none" stroke="#0c0cd0" stroke-opacity="0.55" stroke-width="2.1" stroke-linecap="round"/>
<line x1="979.3" y1="732" x2="979.3" y2="1318.5" stroke="#000" stroke-opacity="0.38" stroke-width="4.8" stroke-linecap="butt"/>
<line x1="979.3" y1="732" x2="979.3" y2="1318.5" stroke="#000" stroke-width="3.5" stroke-linecap="butt"/>
<line x1="1696.3" y1="732" x2="1696.3" y2="1318.5" stroke="#000" stroke-opacity="0.38" stroke-width="4.6" stroke-linecap="butt"/>
<line x1="1696.3" y1="732" x2="1696.3" y2="1318.5" stroke="#000" stroke-width="3.3" stroke-linecap="butt"/>
<line x1="977.55" y1="733.8" x2="1697.95" y2="733.8" stroke="#000" stroke-opacity="0.38" stroke-width="4.9" stroke-linecap="butt"/>
<line x1="977.55" y1="733.8" x2="1697.95" y2="733.8" stroke="#000" stroke-width="3.6" stroke-linecap="butt"/>
<line x1="977.55" y1="1316.4" x2="1697.95" y2="1316.4" stroke="#000" stroke-opacity="0.38" stroke-width="5.5" stroke-linecap="butt"/>
<line x1="977.55" y1="1316.4" x2="1697.95" y2="1316.4" stroke="#000" stroke-width="4.2" stroke-linecap="butt"/>
<line x1="979.3" y1="770" x2="985.7" y2="770" stroke="#000" stroke-opacity="0.38" stroke-width="4.5" stroke-linecap="round"/>
<line x1="979.3" y1="770" x2="985.7" y2="770" stroke="#000" stroke-width="3.2" stroke-linecap="round"/>
<line x1="979.3" y1="880" x2="985.7" y2="880" stroke="#000" stroke-opacity="0.38" stroke-width="4.5" stroke-linecap="round"/>
<line x1="979.3" y1="880" x2="985.7" y2="880" stroke="#000" stroke-width="3.2" stroke-linecap="round"/>
<line x1="979.3" y1="988.75" x2="985.7" y2="988.75" stroke="#000" stroke-opacity="0.38" stroke-width="4.5" stroke-linecap="round"/>
<line x1="979.3" y1="988.75" x2="985.7" y2="988.75" stroke="#000" stroke-width="3.2" stroke-linecap="round"/>
<line x1="979.3" y1="1098.25" x2="985.7" y2="1098.25" stroke="#000" stroke-opacity="0.38" stroke-width="4.5" stroke-linecap="round"/>
<line x1="979.3" y1="1098.25" x2="985.7" y2="1098.25" stroke="#000" stroke-width="3.2" stroke-linecap="round"/>
<line x1="979.3" y1="1208.25" x2="985.7" y2="1208.25" stroke="#000" stroke-opacity="0.38" stroke-width="4.5" stroke-linecap="round"/>
<line x1="979.3" y1="1208.25" x2="985.7" y2="1208.25" stroke="#000" stroke-width="3.2" stroke-linecap="round"/>
<line x1="979.3" y1="825" x2="982.7" y2="825" stroke="#000" stroke-opacity="0.38" stroke-width="4.5" stroke-linecap="round"/>
<line x1="979.3" y1="825" x2="982.7" y2="825" stroke="#000" stroke-width="3.2" stroke-linecap="round"/>
<line x1="979.3" y1="935" x2="982.7" y2="935" stroke="#000" stroke-opacity="0.38" stroke-width="4.5" stroke-linecap="round"/>
<line x1="979.3" y1="935" x2="982.7" y2="935" stroke="#000" stroke-width="3.2" stroke-linecap="round"/>
<line x1="979.3" y1="1043.75" x2="982.7" y2="1043.75" stroke="#000" stroke-opacity="0.38" stroke-width="4.5" stroke-linecap="round"/>
<line x1="979.3" y1="1043.75" x2="982.7" y2="1043.75" stroke="#000" stroke-width="3.2" stroke-linecap="round"/>
<line x1="979.3" y1="1153.25" x2="982.7" y2="1153.25" stroke="#000" stroke-opacity="0.38" stroke-width="4.5" stroke-linecap="round"/>
<line x1="979.3" y1="1153.25" x2="982.7" y2="1153.25" stroke="#000" stroke-width="3.2" stroke-linecap="round"/>
<line x1="979.3" y1="1263.25" x2="982.7" y2="1263.25" stroke="#000" stroke-opacity="0.38" stroke-width="4.5" stroke-linecap="round"/>
<line x1="979.3" y1="1263.25" x2="982.7" y2="1263.25" stroke="#000" stroke-width="3.2" stroke-linecap="round"/>
<line x1="1696.3" y1="770" x2="1698.55" y2="770" stroke="#000" stroke-width="1.6" stroke-linecap="butt"/>
<line x1="1696.3" y1="880" x2="1698.55" y2="880" stroke="#000" stroke-width="1.6" stroke-linecap="butt"/>
<line x1="1696.3" y1="988.75" x2="1698.55" y2="988.75" stroke="#000" stroke-width="1.6" stroke-linecap="butt"/>
<line x1="1696.3" y1="1098.25" x2="1698.55" y2="1098.25" stroke="#000" stroke-width="1.6" stroke-linecap="butt"/>
<line x1="1696.3" y1="1208.25" x2="1698.55" y2="1208.25" stroke="#000" stroke-width="1.6" stroke-linecap="butt"/>
<line x1="1696.3" y1="825" x2="1698.55" y2="825" stroke="#000" stroke-width="1.6" stroke-linecap="butt"/>
<line x1="1696.3" y1="935" x2="1698.55" y2="935" stroke="#000" stroke-width="1.6" stroke-linecap="butt"/>
<line x1="1696.3" y1="1043.75" x2="1698.55" y2="1043.75" stroke="#000" stroke-width="1.6" stroke-linecap="butt"/>
<line x1="1696.3" y1="1153.25" x2="1698.55" y2="1153.25" stroke="#000" stroke-width="1.6" stroke-linecap="butt"/>
<line x1="1696.3" y1="1263.25" x2="1698.55" y2="1263.25" stroke="#000" stroke-width="1.6" stroke-linecap="butt"/>
<line x1="1011.25" y1="1316.4" x2="1011.25" y2="1310.5" stroke="#000" stroke-opacity="0.38" stroke-width="4.5" stroke-linecap="round"/>
<line x1="1011.25" y1="1316.4" x2="1011.25" y2="1310.5" stroke="#000" stroke-width="3.2" stroke-linecap="round"/>
<line x1="1174.5" y1="1316.4" x2="1174.5" y2="1310.5" stroke="#000" stroke-opacity="0.38" stroke-width="4.5" stroke-linecap="round"/>
<line x1="1174.5" y1="1316.4" x2="1174.5" y2="1310.5" stroke="#000" stroke-width="3.2" stroke-linecap="round"/>
<line x1="1337.5" y1="1316.4" x2="1337.5" y2="1310.5" stroke="#000" stroke-opacity="0.38" stroke-width="4.5" stroke-linecap="round"/>
<line x1="1337.5" y1="1316.4" x2="1337.5" y2="1310.5" stroke="#000" stroke-width="3.2" stroke-linecap="round"/>
<line x1="1500" y1="1316.4" x2="1500" y2="1310.5" stroke="#000" stroke-opacity="0.38" stroke-width="4.5" stroke-linecap="round"/>
<line x1="1500" y1="1316.4" x2="1500" y2="1310.5" stroke="#000" stroke-width="3.2" stroke-linecap="round"/>
<line x1="1663.25" y1="1316.4" x2="1663.25" y2="1310.5" stroke="#000" stroke-opacity="0.38" stroke-width="4.5" stroke-linecap="round"/>
<line x1="1663.25" y1="1316.4" x2="1663.25" y2="1310.5" stroke="#000" stroke-width="3.2" stroke-linecap="round"/>
<line x1="1093" y1="1316.4" x2="1093" y2="1314" stroke="#000" stroke-opacity="0.38" stroke-width="4.5" stroke-linecap="round"/>
<line x1="1093" y1="1316.4" x2="1093" y2="1314" stroke="#000" stroke-width="3.2" stroke-linecap="round"/>
<line x1="1255.75" y1="1316.4" x2="1255.75" y2="1314" stroke="#000" stroke-opacity="0.38" stroke-width="4.5" stroke-linecap="round"/>
<line x1="1255.75" y1="1316.4" x2="1255.75" y2="1314" stroke="#000" stroke-width="3.2" stroke-linecap="round"/>
<line x1="1418.75" y1="1316.4" x2="1418.75" y2="1314" stroke="#000" stroke-opacity="0.38" stroke-width="4.5" stroke-linecap="round"/>
<line x1="1418.75" y1="1316.4" x2="1418.75" y2="1314" stroke="#000" stroke-width="3.2" stroke-linecap="round"/>
<line x1="1581.25" y1="1316.4" x2="1581.25" y2="1314" stroke="#000" stroke-opacity="0.38" stroke-width="4.5" stroke-linecap="round"/>
<line x1="1581.25" y1="1316.4" x2="1581.25" y2="1314" stroke="#000" stroke-width="3.2" stroke-linecap="round"/>
<text transform="translate(971.9 776.33) scale(0.9 1)" text-anchor="end" font-family='"Liberation Sans", Arial, Helvetica, sans-serif' font-weight="normal" font-size="25.5" stroke="#000" stroke-opacity="1" stroke-width="1" paint-order="stroke" stroke-linejoin="round">150</text>
<text transform="translate(971.9 886.33) scale(0.9 1)" text-anchor="end" font-family='"Liberation Sans", Arial, Helvetica, sans-serif' font-weight="normal" font-size="25.5" stroke="#000" stroke-opacity="1" stroke-width="1" paint-order="stroke" stroke-linejoin="round">120</text>
<text transform="translate(971.9 995.08) scale(0.9 1)" text-anchor="end" font-family='"Liberation Sans", Arial, Helvetica, sans-serif' font-weight="normal" font-size="25.5" stroke="#000" stroke-opacity="1" stroke-width="1" paint-order="stroke" stroke-linejoin="round">90</text>
<text transform="translate(971.9 1104.58) scale(0.9 1)" text-anchor="end" font-family='"Liberation Sans", Arial, Helvetica, sans-serif' font-weight="normal" font-size="25.5" stroke="#000" stroke-opacity="1" stroke-width="1" paint-order="stroke" stroke-linejoin="round">60</text>
<text transform="translate(971.9 1214.58) scale(0.9 1)" text-anchor="end" font-family='"Liberation Sans", Arial, Helvetica, sans-serif' font-weight="normal" font-size="25.5" stroke="#000" stroke-opacity="1" stroke-width="1" paint-order="stroke" stroke-linejoin="round">30</text>
<text x="1011.25" y="1344.8" text-anchor="middle" font-family='"Liberation Sans", Arial, Helvetica, sans-serif' font-weight="bold" font-size="24.5">5.5</text>
<text x="1174.5" y="1344.8" text-anchor="middle" font-family='"Liberation Sans", Arial, Helvetica, sans-serif' font-weight="bold" font-size="24.5">6.0</text>
<text x="1337.5" y="1344.8" text-anchor="middle" font-family='"Liberation Sans", Arial, Helvetica, sans-serif' font-weight="bold" font-size="24.5">6.5</text>
<text x="1500" y="1344.8" text-anchor="middle" font-family='"Liberation Sans", Arial, Helvetica, sans-serif' font-weight="bold" font-size="24.5">7.0</text>
<text x="1663.25" y="1344.8" text-anchor="middle" font-family='"Liberation Sans", Arial, Helvetica, sans-serif' font-weight="bold" font-size="24.5">7.5</text>
<text x="1253.5" y="780" text-anchor="middle" font-family='"Liberation Sans", Arial, Helvetica, sans-serif' font-weight="bold" font-size="44" stroke="#000" stroke-opacity="0.35" stroke-width="0.9" paint-order="stroke" stroke-linejoin="round">Z=6</text>
<text transform="translate(910.5 933.7) rotate(-90)" text-anchor="middle" font-family='"Liberation Serif", "Times New Roman", Times, serif' font-weight="bold" font-size="36" stroke="#000" stroke-opacity="0.35" stroke-width="0.9" paint-order="stroke">frequency</text>
<text transform="translate(1217.2 1383.8) scale(0.965 1)" font-family='"Liberation Serif", "Times New Roman", Times, serif' font-weight="bold" font-size="35.5" stroke="#000" stroke-opacity="0.35" stroke-width="0.9" paint-order="stroke">N<tspan dx="-0.8" dy="15" font-size="22.5" font-weight="normal" font-family='"Liberation Serif", "Times New Roman", Times, serif'>δ</tspan><tspan dx="-2.5" dy="-15">/mm</tspan></text>
</g>
<g class="panel">
<path d="M111.25 2005.5 H142.87 V1977.5 H206.09 V1921.25 H269.32 V1830 H332.55 V1714.25 H395.78 V1605.5 H459.01 V1545.75 H522.24 V1563.75 H585.47 V1648.75 H648.7 V1765 H711.93 V1873 H775.16 V1948.75 H806.78" fill="none" stroke="#0505f5" stroke-opacity="0.38" stroke-width="5" stroke-linejoin="miter" stroke-linecap="butt"/>
<path d="M111.25 2005.5 H142.87 V1977.5 H206.09 V1921.25 H269.32 V1830 H332.55 V1714.25 H395.78 V1605.5 H459.01 V1545.75 H522.24 V1563.75 H585.47 V1648.75 H648.7 V1765 H711.93 V1873 H775.16 V1948.75 H806.78" fill="none" stroke="#0505f5" stroke-width="3.7" stroke-linejoin="miter" stroke-linecap="butt"/>
<path d="M111.25 1999.1V2011.9M109.55 1999.1H112.95M109.55 2011.9H112.95M174.48 1969.25V1985.75M172.78 1969.25H176.18M172.78 1985.75H176.18M237.71 1910.25V1932.25M236.01 1910.25H239.41M236.01 1932.25H239.41M300.94 1815V1845M299.24 1815H302.64M299.24 1845H302.64M364.17 1693.25V1735.25M362.47 1693.25H365.87M362.47 1735.25H365.87M427.4 1578.9V1632.1M425.7 1578.9H429.1M425.7 1632.1H429.1M490.63 1515.75V1575.75M488.93 1515.75H492.33M488.93 1575.75H492.33M553.86 1535.35V1592.15M552.16 1535.35H555.56M552.16 1592.15H555.56M617.09 1624.35V1673.15M615.39 1624.35H618.79M615.39 1673.15H618.79M680.32 1746.25V1783.75M678.62 1746.25H682.02M678.62 1783.75H682.02M743.55 1860V1886M741.85 1860H745.25M741.85 1886H745.25M806.78 1939.35V1958.15M805.08 1939.35H808.48M805.08 1958.15H808.48" fill="none" stroke="#0c0cd0" stroke-opacity="0.38" stroke-width="3.2" stroke-linejoin="miter" stroke-linecap="round"/>
<path d="M111.25 1999.1V2011.9M109.55 1999.1H112.95M109.55 2011.9H112.95M174.48 1969.25V1985.75M172.78 1969.25H176.18M172.78 1985.75H176.18M237.71 1910.25V1932.25M236.01 1910.25H239.41M236.01 1932.25H239.41M300.94 1815V1845M299.24 1815H302.64M299.24 1845H302.64M364.17 1693.25V1735.25M362.47 1693.25H365.87M362.47 1735.25H365.87M427.4 1578.9V1632.1M425.7 1578.9H429.1M425.7 1632.1H429.1M490.63 1515.75V1575.75M488.93 1515.75H492.33M488.93 1575.75H492.33M553.86 1535.35V1592.15M552.16 1535.35H555.56M552.16 1592.15H555.56M617.09 1624.35V1673.15M615.39 1624.35H618.79M615.39 1673.15H618.79M680.32 1746.25V1783.75M678.62 1746.25H682.02M678.62 1783.75H682.02M743.55 1860V1886M741.85 1860H745.25M741.85 1886H745.25M806.78 1939.35V1958.15M805.08 1939.35H808.48M805.08 1958.15H808.48" fill="none" stroke="#0c0cd0" stroke-width="1.9" stroke-linejoin="miter" stroke-linecap="round"/>
<polyline points="112.25,2007.59 118.04,2005.81 123.83,2003.88 129.61,2001.79 135.4,1999.53 141.19,1997.1 146.97,1994.48 152.76,1991.67 158.55,1988.65 164.34,1985.42 170.12,1981.97 175.91,1978.28 181.7,1974.36 187.49,1970.18 193.28,1965.74 199.06,1961.04 204.85,1956.07 210.64,1950.82 216.43,1945.28 222.21,1939.45 228,1933.32 233.79,1926.9 239.57,1920.17 245.36,1913.15 251.15,1905.82 256.94,1898.19 262.73,1890.27 268.51,1882.05 274.3,1873.55 280.09,1864.76 285.88,1855.71 291.66,1846.4 297.45,1836.84 303.24,1827.05 309.02,1817.04 314.81,1806.83 320.6,1796.45 326.39,1785.91 332.18,1775.23 337.96,1764.45 343.75,1753.57 349.54,1742.65 355.32,1731.69 361.11,1720.74 366.9,1709.83 372.69,1698.98 378.48,1688.23 384.26,1677.61 390.05,1667.16 395.84,1656.91 401.62,1646.91 407.41,1637.17 413.2,1627.74 418.99,1618.66 424.77,1609.94 430.56,1601.64 436.35,1593.78 442.14,1586.38 447.93,1579.48 453.71,1573.11 459.5,1567.29 465.29,1562.05 471.07,1557.4 476.86,1553.37 482.65,1549.97 488.44,1547.22 494.23,1545.12 500.01,1543.69 505.8,1542.93 511.59,1542.85 517.38,1543.44 523.16,1544.71 528.95,1546.64 534.74,1549.24 540.52,1552.48 546.31,1556.36 552.1,1560.86 557.89,1565.96 563.67,1571.64 569.46,1577.88 575.25,1584.65 581.04,1591.93 586.83,1599.68 592.61,1607.88 598.4,1616.49 604.19,1625.49 609.98,1634.84 615.76,1644.5 621.55,1654.45 627.34,1664.64 633.12,1675.04 638.91,1685.62 644.7,1696.34 650.49,1707.17 656.27,1718.07 662.06,1729.02 667.85,1739.98 673.64,1750.91 679.42,1761.8 685.21,1772.61 691,1783.31 696.79,1793.89 702.58,1804.32 708.36,1814.57 714.15,1824.62 719.94,1834.47 725.73,1844.09 731.51,1853.46 737.3,1862.58 743.09,1871.43 748.88,1880 754.66,1888.29 760.45,1896.28 766.24,1903.98 772.02,1911.38 777.81,1918.48 783.6,1925.28 789.39,1931.78 795.17,1937.98 800.96,1943.88 806.75,1949.49" fill="none" stroke="#ee1212" stroke-opacity="0.38" stroke-width="4.9" stroke-linejoin="round" stroke-linecap="butt"/>
<polyline points="112.25,2007.59 118.04,2005.81 123.83,2003.88 129.61,2001.79 135.4,1999.53 141.19,1997.1 146.97,1994.48 152.76,1991.67 158.55,1988.65 164.34,1985.42 170.12,1981.97 175.91,1978.28 181.7,1974.36 187.49,1970.18 193.28,1965.74 199.06,1961.04 204.85,1956.07 210.64,1950.82 216.43,1945.28 222.21,1939.45 228,1933.32 233.79,1926.9 239.57,1920.17 245.36,1913.15 251.15,1905.82 256.94,1898.19 262.73,1890.27 268.51,1882.05 274.3,1873.55 280.09,1864.76 285.88,1855.71 291.66,1846.4 297.45,1836.84 303.24,1827.05 309.02,1817.04 314.81,1806.83 320.6,1796.45 326.39,1785.91 332.18,1775.23 337.96,1764.45 343.75,1753.57 349.54,1742.65 355.32,1731.69 361.11,1720.74 366.9,1709.83 372.69,1698.98 378.48,1688.23 384.26,1677.61 390.05,1667.16 395.84,1656.91 401.62,1646.91 407.41,1637.17 413.2,1627.74 418.99,1618.66 424.77,1609.94 430.56,1601.64 436.35,1593.78 442.14,1586.38 447.93,1579.48 453.71,1573.11 459.5,1567.29 465.29,1562.05 471.07,1557.4 476.86,1553.37 482.65,1549.97 488.44,1547.22 494.23,1545.12 500.01,1543.69 505.8,1542.93 511.59,1542.85 517.38,1543.44 523.16,1544.71 528.95,1546.64 534.74,1549.24 540.52,1552.48 546.31,1556.36 552.1,1560.86 557.89,1565.96 563.67,1571.64 569.46,1577.88 575.25,1584.65 581.04,1591.93 586.83,1599.68 592.61,1607.88 598.4,1616.49 604.19,1625.49 609.98,1634.84 615.76,1644.5 621.55,1654.45 627.34,1664.64 633.12,1675.04 638.91,1685.62 644.7,1696.34 650.49,1707.17 656.27,1718.07 662.06,1729.02 667.85,1739.98 673.64,1750.91 679.42,1761.8 685.21,1772.61 691,1783.31 696.79,1793.89 702.58,1804.32 708.36,1814.57 714.15,1824.62 719.94,1834.47 725.73,1844.09 731.51,1853.46 737.3,1862.58 743.09,1871.43 748.88,1880 754.66,1888.29 760.45,1896.28 766.24,1903.98 772.02,1911.38 777.81,1918.48 783.6,1925.28 789.39,1931.78 795.17,1937.98 800.96,1943.88 806.75,1949.49" fill="none" stroke="#ee1212" stroke-width="3.6" stroke-linejoin="round" stroke-linecap="butt"/>
<path d="M111.25 1999.1V2011.9M109.55 1999.1H112.95M109.55 2011.9H112.95M174.48 1969.25V1985.75M172.78 1969.25H176.18M172.78 1985.75H176.18M237.71 1910.25V1932.25M236.01 1910.25H239.41M236.01 1932.25H239.41M300.94 1815V1845M299.24 1815H302.64M299.24 1845H302.64M364.17 1693.25V1735.25M362.47 1693.25H365.87M362.47 1735.25H365.87M427.4 1578.9V1632.1M425.7 1578.9H429.1M425.7 1632.1H429.1M490.63 1515.75V1575.75M488.93 1515.75H492.33M488.93 1575.75H492.33M553.86 1535.35V1592.15M552.16 1535.35H555.56M552.16 1592.15H555.56M617.09 1624.35V1673.15M615.39 1624.35H618.79M615.39 1673.15H618.79M680.32 1746.25V1783.75M678.62 1746.25H682.02M678.62 1783.75H682.02M743.55 1860V1886M741.85 1860H745.25M741.85 1886H745.25M806.78 1939.35V1958.15M805.08 1939.35H808.48M805.08 1958.15H808.48" fill="none" stroke="#0c0cd0" stroke-opacity="0.55" stroke-width="1.9" stroke-linecap="round"/>
<line x1="90.6" y1="1438.15" x2="90.6" y2="2053" stroke="#000" stroke-opacity="0.38" stroke-width="5" stroke-linecap="butt"/>
<line x1="90.6" y1="1438.15" x2="90.6" y2="2053" stroke="#000" stroke-width="3.7" stroke-linecap="butt"/>
<line x1="823.3" y1="1438.15" x2="823.3" y2="2053" stroke="#000" stroke-opacity="0.38" stroke-width="4.6" stroke-linecap="butt"/>
<line x1="823.3" y1="1438.15" x2="823.3" y2="2053" stroke="#000" stroke-width="3.3" stroke-linecap="butt"/>
<line x1="88.75" y1="1440" x2="824.95" y2="1440" stroke="#000" stroke-opacity="0.38" stroke-width="5" stroke-linecap="butt"/>
<line x1="88.75" y1="1440" x2="824.95" y2="1440" stroke="#000" stroke-width="3.7" stroke-linecap="butt"/>
<line x1="88.75" y1="2050.8" x2="824.95" y2="2050.8" stroke="#000" stroke-opacity="0.38" stroke-width="5.7" stroke-linecap="butt"/>
<line x1="88.75" y1="2050.8" x2="824.95" y2="2050.8" stroke="#000" stroke-width="4.4" stroke-linecap="butt"/>
<line x1="90.6" y1="1480.75" x2="97.65" y2="1480.75" stroke="#000" stroke-opacity="0.38" stroke-width="4.7" stroke-linecap="round"/>
<line x1="90.6" y1="1480.75" x2="97.65" y2="1480.75" stroke="#000" stroke-width="3.4" stroke-linecap="round"/>
<line x1="90.6" y1="1563" x2="97.65" y2="1563" stroke="#000" stroke-opacity="0.38" stroke-width="4.7" stroke-linecap="round"/>
<line x1="90.6" y1="1563" x2="97.65" y2="1563" stroke="#000" stroke-width="3.4" stroke-linecap="round"/>
<line x1="90.6" y1="1644.5" x2="97.65" y2="1644.5" stroke="#000" stroke-opacity="0.38" stroke-width="4.7" stroke-linecap="round"/>
<line x1="90.6" y1="1644.5" x2="97.65" y2="1644.5" stroke="#000" stroke-width="3.4" stroke-linecap="round"/>
<line x1="90.6" y1="1726" x2="97.65" y2="1726" stroke="#000" stroke-opacity="0.38" stroke-width="4.7" stroke-linecap="round"/>
<line x1="90.6" y1="1726" x2="97.65" y2="1726" stroke="#000" stroke-width="3.4" stroke-linecap="round"/>
<line x1="90.6" y1="1808" x2="97.65" y2="1808" stroke="#000" stroke-opacity="0.38" stroke-width="4.7" stroke-linecap="round"/>
<line x1="90.6" y1="1808" x2="97.65" y2="1808" stroke="#000" stroke-width="3.4" stroke-linecap="round"/>
<line x1="90.6" y1="1889.5" x2="97.65" y2="1889.5" stroke="#000" stroke-opacity="0.38" stroke-width="4.7" stroke-linecap="round"/>
<line x1="90.6" y1="1889.5" x2="97.65" y2="1889.5" stroke="#000" stroke-width="3.4" stroke-linecap="round"/>
<line x1="90.6" y1="1970.5" x2="97.65" y2="1970.5" stroke="#000" stroke-opacity="0.38" stroke-width="4.7" stroke-linecap="round"/>
<line x1="90.6" y1="1970.5" x2="97.65" y2="1970.5" stroke="#000" stroke-width="3.4" stroke-linecap="round"/>
<line x1="90.6" y1="1522" x2="93.9" y2="1522" stroke="#000" stroke-opacity="0.38" stroke-width="4.7" stroke-linecap="round"/>
<line x1="90.6" y1="1522" x2="93.9" y2="1522" stroke="#000" stroke-width="3.4" stroke-linecap="round"/>
<line x1="90.6" y1="1603.75" x2="93.9" y2="1603.75" stroke="#000" stroke-opacity="0.38" stroke-width="4.7" stroke-linecap="round"/>
<line x1="90.6" y1="1603.75" x2="93.9" y2="1603.75" stroke="#000" stroke-width="3.4" stroke-linecap="round"/>
<line x1="90.6" y1="1685.25" x2="93.9" y2="1685.25" stroke="#000" stroke-opacity="0.38" stroke-width="4.7" stroke-linecap="round"/>
<line x1="90.6" y1="1685.25" x2="93.9" y2="1685.25" stroke="#000" stroke-width="3.4" stroke-linecap="round"/>
<line x1="90.6" y1="1767" x2="93.9" y2="1767" stroke="#000" stroke-opacity="0.38" stroke-width="4.7" stroke-linecap="round"/>
<line x1="90.6" y1="1767" x2="93.9" y2="1767" stroke="#000" stroke-width="3.4" stroke-linecap="round"/>
<line x1="90.6" y1="1848.75" x2="93.9" y2="1848.75" stroke="#000" stroke-opacity="0.38" stroke-width="4.7" stroke-linecap="round"/>
<line x1="90.6" y1="1848.75" x2="93.9" y2="1848.75" stroke="#000" stroke-width="3.4" stroke-linecap="round"/>
<line x1="90.6" y1="1930" x2="93.9" y2="1930" stroke="#000" stroke-opacity="0.38" stroke-width="4.7" stroke-linecap="round"/>
<line x1="90.6" y1="1930" x2="93.9" y2="1930" stroke="#000" stroke-width="3.4" stroke-linecap="round"/>
<line x1="90.6" y1="2012" x2="93.9" y2="2012" stroke="#000" stroke-opacity="0.38" stroke-width="4.7" stroke-linecap="round"/>
<line x1="90.6" y1="2012" x2="93.9" y2="2012" stroke="#000" stroke-width="3.4" stroke-linecap="round"/>
<line x1="823.3" y1="1480.75" x2="825.55" y2="1480.75" stroke="#000" stroke-width="1.6" stroke-linecap="butt"/>
<line x1="823.3" y1="1563" x2="825.55" y2="1563" stroke="#000" stroke-width="1.6" stroke-linecap="butt"/>
<line x1="823.3" y1="1644.5" x2="825.55" y2="1644.5" stroke="#000" stroke-width="1.6" stroke-linecap="butt"/>
<line x1="823.3" y1="1726" x2="825.55" y2="1726" stroke="#000" stroke-width="1.6" stroke-linecap="butt"/>
<line x1="823.3" y1="1808" x2="825.55" y2="1808" stroke="#000" stroke-width="1.6" stroke-linecap="butt"/>
<line x1="823.3" y1="1889.5" x2="825.55" y2="1889.5" stroke="#000" stroke-width="1.6" stroke-linecap="butt"/>
<line x1="823.3" y1="1970.5" x2="825.55" y2="1970.5" stroke="#000" stroke-width="1.6" stroke-linecap="butt"/>
<line x1="823.3" y1="1522" x2="825.55" y2="1522" stroke="#000" stroke-width="1.6" stroke-linecap="butt"/>
<line x1="823.3" y1="1603.75" x2="825.55" y2="1603.75" stroke="#000" stroke-width="1.6" stroke-linecap="butt"/>
<line x1="823.3" y1="1685.25" x2="825.55" y2="1685.25" stroke="#000" stroke-width="1.6" stroke-linecap="butt"/>
<line x1="823.3" y1="1767" x2="825.55" y2="1767" stroke="#000" stroke-width="1.6" stroke-linecap="butt"/>
<line x1="823.3" y1="1848.75" x2="825.55" y2="1848.75" stroke="#000" stroke-width="1.6" stroke-linecap="butt"/>
<line x1="823.3" y1="1930" x2="825.55" y2="1930" stroke="#000" stroke-width="1.6" stroke-linecap="butt"/>
<line x1="823.3" y1="2012" x2="825.55" y2="2012" stroke="#000" stroke-width="1.6" stroke-linecap="butt"/>
<line x1="180" y1="2050.8" x2="180" y2="2040.1" stroke="#000" stroke-opacity="0.38" stroke-width="4.9" stroke-linecap="round"/>
<line x1="180" y1="2050.8" x2="180" y2="2040.1" stroke="#000" stroke-width="3.6" stroke-linecap="round"/>
<line x1="359.25" y1="2050.8" x2="359.25" y2="2040.1" stroke="#000" stroke-opacity="0.38" stroke-width="4.9" stroke-linecap="round"/>
<line x1="359.25" y1="2050.8" x2="359.25" y2="2040.1" stroke="#000" stroke-width="3.6" stroke-linecap="round"/>
<line x1="537" y1="2050.8" x2="537" y2="2040.1" stroke="#000" stroke-opacity="0.38" stroke-width="4.9" stroke-linecap="round"/>
<line x1="537" y1="2050.8" x2="537" y2="2040.1" stroke="#000" stroke-width="3.6" stroke-linecap="round"/>
<line x1="715.75" y1="2050.8" x2="715.75" y2="2040.1" stroke="#000" stroke-opacity="0.38" stroke-width="4.9" stroke-linecap="round"/>
<line x1="715.75" y1="2050.8" x2="715.75" y2="2040.1" stroke="#000" stroke-width="3.6" stroke-linecap="round"/>
<line x1="269.25" y1="2050.8" x2="269.25" y2="2046.6" stroke="#000" stroke-opacity="0.38" stroke-width="4.9" stroke-linecap="round"/>
<line x1="269.25" y1="2050.8" x2="269.25" y2="2046.6" stroke="#000" stroke-width="3.6" stroke-linecap="round"/>
<line x1="447" y1="2050.8" x2="447" y2="2046.6" stroke="#000" stroke-opacity="0.38" stroke-width="4.9" stroke-linecap="round"/>
<line x1="447" y1="2050.8" x2="447" y2="2046.6" stroke="#000" stroke-width="3.6" stroke-linecap="round"/>
<line x1="626.25" y1="2050.8" x2="626.25" y2="2046.6" stroke="#000" stroke-opacity="0.38" stroke-width="4.9" stroke-linecap="round"/>
<line x1="626.25" y1="2050.8" x2="626.25" y2="2046.6" stroke="#000" stroke-width="3.6" stroke-linecap="round"/>
<line x1="804.5" y1="2050.8" x2="804.5" y2="2046.6" stroke="#000" stroke-opacity="0.38" stroke-width="4.9" stroke-linecap="round"/>
<line x1="804.5" y1="2050.8" x2="804.5" y2="2046.6" stroke="#000" stroke-width="3.6" stroke-linecap="round"/>
<text x="83" y="1487.64" text-anchor="end" font-family='"Liberation Sans", Arial, Helvetica, sans-serif' font-weight="bold" font-size="24">80</text>
<text x="83" y="1569.89" text-anchor="end" font-family='"Liberation Sans", Arial, Helvetica, sans-serif' font-weight="bold" font-size="24">70</text>
<text x="83" y="1651.39" text-anchor="end" font-family='"Liberation Sans", Arial, Helvetica, sans-serif' font-weight="bold" font-size="24">60</text>
<text x="83" y="1732.89" text-anchor="end" font-family='"Liberation Sans", Arial, Helvetica, sans-serif' font-weight="bold" font-size="24">50</text>
<text x="83" y="1814.89" text-anchor="end" font-family='"Liberation Sans", Arial, Helvetica, sans-serif' font-weight="bold" font-size="24">40</text>
<text x="83" y="1896.39" text-anchor="end" font-family='"Liberation Sans", Arial, Helvetica, sans-serif' font-weight="bold" font-size="24">30</text>
<text x="83" y="1977.39" text-anchor="end" font-family='"Liberation Sans", Arial, Helvetica, sans-serif' font-weight="bold" font-size="24">20</text>
<text transform="translate(180 2085.3) scale(0.93 1)" text-anchor="middle" font-family='"Liberation Sans", Arial, Helvetica, sans-serif' font-weight="bold" font-size="25.5">7.5</text>
<text transform="translate(359.25 2085.3) scale(0.93 1)" text-anchor="middle" font-family='"Liberation Sans", Arial, Helvetica, sans-serif' font-weight="bold" font-size="25.5">8.0</text>
<text transform="translate(537 2085.3) scale(0.93 1)" text-anchor="middle" font-family='"Liberation Sans", Arial, Helvetica, sans-serif' font-weight="bold" font-size="25.5">8.5</text>
<text transform="translate(715.75 2085.3) scale(0.93 1)" text-anchor="middle" font-family='"Liberation Sans", Arial, Helvetica, sans-serif' font-weight="bold" font-size="25.5">9.0</text>
<text x="509" y="1500.2" text-anchor="middle" font-family='"Liberation Sans", Arial, Helvetica, sans-serif' font-weight="bold" font-size="44.7" stroke="#000" stroke-opacity="0.35" stroke-width="0.9" paint-order="stroke" stroke-linejoin="round">Z=7</text>
<text transform="translate(36.4 1600.5) rotate(-90)" text-anchor="middle" font-family='"Liberation Serif", "Times New Roman", Times, serif' font-weight="bold" font-size="37.9" stroke="#000" stroke-opacity="0.35" stroke-width="0.9" paint-order="stroke">frequency</text>
<text transform="translate(392.5 2109.8) scale(0.968 1)" font-family='"Liberation Serif", "Times New Roman", Times, serif' font-weight="bold" font-size="36" stroke="#000" stroke-opacity="0.35" stroke-width="0.9" paint-order="stroke">N<tspan dx="-0.8" dy="15" font-size="23" font-weight="normal" font-family='"Liberation Serif", "Times New Roman", Times, serif'>δ</tspan><tspan dx="-2.5" dy="-15">/mm</tspan></text>
</g>
<g class="panel">
<path d="M1044.5 1965.5 H1081.25 V1891.5 H1155 V1802.5 H1227.5 V1669.25 H1300.5 V1520.5 H1373.25 V1613.25 H1446.75 V1744.25 H1519.5 V1891.25 H1593.25 V1965.5 H1630" fill="none" stroke="#0505f5" stroke-opacity="0.38" stroke-width="5" stroke-linejoin="miter" stroke-linecap="butt"/>
<path d="M1044.5 1965.5 H1081.25 V1891.5 H1155 V1802.5 H1227.5 V1669.25 H1300.5 V1520.5 H1373.25 V1613.25 H1446.75 V1744.25 H1519.5 V1891.25 H1593.25 V1965.5 H1630" fill="none" stroke="#0505f5" stroke-width="3.7" stroke-linejoin="miter" stroke-linecap="butt"/>
<path d="M1044.5 1943.5V1987.5M1042.8 1943.5H1046.2M1042.8 1987.5H1046.2M1117.75 1873.75V1909.25M1116.05 1873.75H1119.45M1116.05 1909.25H1119.45M1191 1785.25V1819.75M1189.3 1785.25H1192.7M1189.3 1819.75H1192.7M1264 1647.25V1691.25M1262.3 1647.25H1265.7M1262.3 1691.25H1265.7M1337.25 1497.5V1543.5M1335.55 1497.5H1338.95M1335.55 1543.5H1338.95M1410.5 1593.85V1632.65M1408.8 1593.85H1412.2M1408.8 1632.65H1412.2M1483.7 1726.25V1762.25M1482 1726.25H1485.4M1482 1762.25H1485.4M1557 1873.75V1908.75M1555.3 1873.75H1558.7M1555.3 1908.75H1558.7M1630 1949.75V1981.25M1628.3 1949.75H1631.7M1628.3 1981.25H1631.7" fill="none" stroke="#0c0cd0" stroke-opacity="0.38" stroke-width="3" stroke-linejoin="miter" stroke-linecap="round"/>
<path d="M1044.5 1943.5V1987.5M1042.8 1943.5H1046.2M1042.8 1987.5H1046.2M1117.75 1873.75V1909.25M1116.05 1873.75H1119.45M1116.05 1909.25H1119.45M1191 1785.25V1819.75M1189.3 1785.25H1192.7M1189.3 1819.75H1192.7M1264 1647.25V1691.25M1262.3 1647.25H1265.7M1262.3 1691.25H1265.7M1337.25 1497.5V1543.5M1335.55 1497.5H1338.95M1335.55 1543.5H1338.95M1410.5 1593.85V1632.65M1408.8 1593.85H1412.2M1408.8 1632.65H1412.2M1483.7 1726.25V1762.25M1482 1726.25H1485.4M1482 1762.25H1485.4M1557 1873.75V1908.75M1555.3 1873.75H1558.7M1555.3 1908.75H1558.7M1630 1949.75V1981.25M1628.3 1949.75H1631.7M1628.3 1981.25H1631.7" fill="none" stroke="#0c0cd0" stroke-width="1.7" stroke-linejoin="miter" stroke-linecap="round"/>
<polyline points="1055.5,1961.65 1060.29,1959.51 1065.08,1957.18 1069.86,1954.67 1074.65,1951.95 1079.44,1949.02 1084.22,1945.86 1089.01,1942.47 1093.8,1938.84 1098.59,1934.95 1103.38,1930.79 1108.16,1926.36 1112.95,1921.65 1117.74,1916.65 1122.53,1911.35 1127.31,1905.75 1132.1,1899.84 1136.89,1893.62 1141.67,1887.09 1146.46,1880.24 1151.25,1873.07 1156.04,1865.59 1160.83,1857.8 1165.61,1849.71 1170.4,1841.32 1175.19,1832.64 1179.97,1823.69 1184.76,1814.47 1189.55,1805 1194.34,1795.31 1199.12,1785.4 1203.91,1775.31 1208.7,1765.05 1213.49,1754.65 1218.28,1744.14 1223.06,1733.56 1227.85,1722.92 1232.64,1712.27 1237.42,1701.63 1242.21,1691.05 1247,1680.56 1251.79,1670.21 1256.58,1660.02 1261.36,1650.03 1266.15,1640.3 1270.94,1630.85 1275.72,1621.72 1280.51,1612.96 1285.3,1604.6 1290.09,1596.67 1294.88,1589.22 1299.66,1582.28 1304.45,1575.87 1309.24,1570.03 1314.03,1564.78 1318.81,1560.16 1323.6,1556.17 1328.39,1552.85 1333.17,1550.2 1337.96,1548.24 1342.75,1546.98 1347.54,1546.43 1352.33,1546.58 1357.11,1547.44 1361.9,1549 1366.69,1551.26 1371.47,1554.2 1376.26,1557.81 1381.05,1562.07 1385.84,1566.97 1390.62,1572.47 1395.41,1578.56 1400.2,1585.2 1404.99,1592.37 1409.78,1600.03 1414.56,1608.15 1419.35,1616.69 1424.14,1625.61 1428.92,1634.88 1433.71,1644.46 1438.5,1654.31 1443.29,1664.38 1448.08,1674.65 1452.86,1685.07 1457.65,1695.6 1462.44,1706.21 1467.22,1716.86 1472.01,1727.51 1476.8,1738.13 1481.59,1748.68 1486.38,1759.15 1491.16,1769.49 1495.95,1779.68 1500.74,1789.69 1505.53,1799.51 1510.31,1809.11 1515.1,1818.47 1519.89,1827.58 1524.67,1836.41 1529.46,1844.97 1534.25,1853.23 1539.04,1861.2 1543.83,1868.85 1548.61,1876.2 1553.4,1883.23 1558.19,1889.94 1562.97,1896.34 1567.76,1902.43 1572.55,1908.2 1577.34,1913.67 1582.12,1918.84 1586.91,1923.72 1591.7,1928.3 1596.49,1932.61 1601.28,1936.65 1606.06,1940.43 1610.85,1943.96 1615.64,1947.25 1620.42,1950.31 1625.21,1953.15 1630,1955.78" fill="none" stroke="#ee1212" stroke-opacity="0.38" stroke-width="4.5" stroke-linejoin="round" stroke-linecap="butt"/>
<polyline points="1055.5,1961.65 1060.29,1959.51 1065.08,1957.18 1069.86,1954.67 1074.65,1951.95 1079.44,1949.02 1084.22,1945.86 1089.01,1942.47 1093.8,1938.84 1098.59,1934.95 1103.38,1930.79 1108.16,1926.36 1112.95,1921.65 1117.74,1916.65 1122.53,1911.35 1127.31,1905.75 1132.1,1899.84 1136.89,1893.62 1141.67,1887.09 1146.46,1880.24 1151.25,1873.07 1156.04,1865.59 1160.83,1857.8 1165.61,1849.71 1170.4,1841.32 1175.19,1832.64 1179.97,1823.69 1184.76,1814.47 1189.55,1805 1194.34,1795.31 1199.12,1785.4 1203.91,1775.31 1208.7,1765.05 1213.49,1754.65 1218.28,1744.14 1223.06,1733.56 1227.85,1722.92 1232.64,1712.27 1237.42,1701.63 1242.21,1691.05 1247,1680.56 1251.79,1670.21 1256.58,1660.02 1261.36,1650.03 1266.15,1640.3 1270.94,1630.85 1275.72,1621.72 1280.51,1612.96 1285.3,1604.6 1290.09,1596.67 1294.88,1589.22 1299.66,1582.28 1304.45,1575.87 1309.24,1570.03 1314.03,1564.78 1318.81,1560.16 1323.6,1556.17 1328.39,1552.85 1333.17,1550.2 1337.96,1548.24 1342.75,1546.98 1347.54,1546.43 1352.33,1546.58 1357.11,1547.44 1361.9,1549 1366.69,1551.26 1371.47,1554.2 1376.26,1557.81 1381.05,1562.07 1385.84,1566.97 1390.62,1572.47 1395.41,1578.56 1400.2,1585.2 1404.99,1592.37 1409.78,1600.03 1414.56,1608.15 1419.35,1616.69 1424.14,1625.61 1428.92,1634.88 1433.71,1644.46 1438.5,1654.31 1443.29,1664.38 1448.08,1674.65 1452.86,1685.07 1457.65,1695.6 1462.44,1706.21 1467.22,1716.86 1472.01,1727.51 1476.8,1738.13 1481.59,1748.68 1486.38,1759.15 1491.16,1769.49 1495.95,1779.68 1500.74,1789.69 1505.53,1799.51 1510.31,1809.11 1515.1,1818.47 1519.89,1827.58 1524.67,1836.41 1529.46,1844.97 1534.25,1853.23 1539.04,1861.2 1543.83,1868.85 1548.61,1876.2 1553.4,1883.23 1558.19,1889.94 1562.97,1896.34 1567.76,1902.43 1572.55,1908.2 1577.34,1913.67 1582.12,1918.84 1586.91,1923.72 1591.7,1928.3 1596.49,1932.61 1601.28,1936.65 1606.06,1940.43 1610.85,1943.96 1615.64,1947.25 1620.42,1950.31 1625.21,1953.15 1630,1955.78" fill="none" stroke="#ee1212" stroke-width="3.2" stroke-linejoin="round" stroke-linecap="butt"/>
<path d="M1044.5 1943.5V1987.5M1042.8 1943.5H1046.2M1042.8 1987.5H1046.2M1117.75 1873.75V1909.25M1116.05 1873.75H1119.45M1116.05 1909.25H1119.45M1191 1785.25V1819.75M1189.3 1785.25H1192.7M1189.3 1819.75H1192.7M1264 1647.25V1691.25M1262.3 1647.25H1265.7M1262.3 1691.25H1265.7M1337.25 1497.5V1543.5M1335.55 1497.5H1338.95M1335.55 1543.5H1338.95M1410.5 1593.85V1632.65M1408.8 1593.85H1412.2M1408.8 1632.65H1412.2M1483.7 1726.25V1762.25M1482 1726.25H1485.4M1482 1762.25H1485.4M1557 1873.75V1908.75M1555.3 1873.75H1558.7M1555.3 1908.75H1558.7M1630 1949.75V1981.25M1628.3 1949.75H1631.7M1628.3 1981.25H1631.7" fill="none" stroke="#0c0cd0" stroke-opacity="0.55" stroke-width="1.7" stroke-linecap="round"/>
<line x1="971.2" y1="1443.7" x2="971.2" y2="2043.3" stroke="#000" stroke-opacity="0.38" stroke-width="6.3" stroke-linecap="butt"/>
<line x1="971.2" y1="1443.7" x2="971.2" y2="2043.3" stroke="#000" stroke-width="5" stroke-linecap="butt"/>
<line x1="1703.8" y1="1443.7" x2="1703.8" y2="2043.3" stroke="#000" stroke-opacity="0.38" stroke-width="5.9" stroke-linecap="butt"/>
<line x1="1703.8" y1="1443.7" x2="1703.8" y2="2043.3" stroke="#000" stroke-width="4.6" stroke-linecap="butt"/>
<line x1="968.7" y1="1446.3" x2="1706.1" y2="1446.3" stroke="#000" stroke-opacity="0.38" stroke-width="6.5" stroke-linecap="butt"/>
<line x1="968.7" y1="1446.3" x2="1706.1" y2="1446.3" stroke="#000" stroke-width="5.2" stroke-linecap="butt"/>
<line x1="968.7" y1="2040.6" x2="1706.1" y2="2040.6" stroke="#000" stroke-opacity="0.38" stroke-width="6.7" stroke-linecap="butt"/>
<line x1="968.7" y1="2040.6" x2="1706.1" y2="2040.6" stroke="#000" stroke-width="5.4" stroke-linecap="butt"/>
<line x1="971.2" y1="1446.4" x2="976.8" y2="1446.4" stroke="#000" stroke-opacity="0.38" stroke-width="6.1" stroke-linecap="round"/>
<line x1="971.2" y1="1446.4" x2="976.8" y2="1446.4" stroke="#000" stroke-width="4.8" stroke-linecap="round"/>
<line x1="971.2" y1="1520.6" x2="976.8" y2="1520.6" stroke="#000" stroke-opacity="0.38" stroke-width="6.1" stroke-linecap="round"/>
<line x1="971.2" y1="1520.6" x2="976.8" y2="1520.6" stroke="#000" stroke-width="4.8" stroke-linecap="round"/>
<line x1="971.2" y1="1594.8" x2="976.8" y2="1594.8" stroke="#000" stroke-opacity="0.38" stroke-width="6.1" stroke-linecap="round"/>
<line x1="971.2" y1="1594.8" x2="976.8" y2="1594.8" stroke="#000" stroke-width="4.8" stroke-linecap="round"/>
<line x1="971.2" y1="1669" x2="976.8" y2="1669" stroke="#000" stroke-opacity="0.38" stroke-width="6.1" stroke-linecap="round"/>
<line x1="971.2" y1="1669" x2="976.8" y2="1669" stroke="#000" stroke-width="4.8" stroke-linecap="round"/>
<line x1="971.2" y1="1743.2" x2="976.8" y2="1743.2" stroke="#000" stroke-opacity="0.38" stroke-width="6.1" stroke-linecap="round"/>
<line x1="971.2" y1="1743.2" x2="976.8" y2="1743.2" stroke="#000" stroke-width="4.8" stroke-linecap="round"/>
<line x1="971.2" y1="1817.4" x2="976.8" y2="1817.4" stroke="#000" stroke-opacity="0.38" stroke-width="6.1" stroke-linecap="round"/>
<line x1="971.2" y1="1817.4" x2="976.8" y2="1817.4" stroke="#000" stroke-width="4.8" stroke-linecap="round"/>
<line x1="971.2" y1="1891.6" x2="976.8" y2="1891.6" stroke="#000" stroke-opacity="0.38" stroke-width="6.1" stroke-linecap="round"/>
<line x1="971.2" y1="1891.6" x2="976.8" y2="1891.6" stroke="#000" stroke-width="4.8" stroke-linecap="round"/>
<line x1="971.2" y1="1965.8" x2="976.8" y2="1965.8" stroke="#000" stroke-opacity="0.38" stroke-width="6.1" stroke-linecap="round"/>
<line x1="971.2" y1="1965.8" x2="976.8" y2="1965.8" stroke="#000" stroke-width="4.8" stroke-linecap="round"/>
<line x1="971.2" y1="2040" x2="976.8" y2="2040" stroke="#000" stroke-opacity="0.38" stroke-width="6.1" stroke-linecap="round"/>
<line x1="971.2" y1="2040" x2="976.8" y2="2040" stroke="#000" stroke-width="4.8" stroke-linecap="round"/>
<line x1="971.2" y1="2002.9" x2="973.8" y2="2002.9" stroke="#000" stroke-opacity="0.38" stroke-width="6.1" stroke-linecap="round"/>
<line x1="971.2" y1="2002.9" x2="973.8" y2="2002.9" stroke="#000" stroke-width="4.8" stroke-linecap="round"/>
<line x1="971.2" y1="1928.7" x2="973.8" y2="1928.7" stroke="#000" stroke-opacity="0.38" stroke-width="6.1" stroke-linecap="round"/>
<line x1="971.2" y1="1928.7" x2="973.8" y2="1928.7" stroke="#000" stroke-width="4.8" stroke-linecap="round"/>
<line x1="971.2" y1="1854.5" x2="973.8" y2="1854.5" stroke="#000" stroke-opacity="0.38" stroke-width="6.1" stroke-linecap="round"/>
<line x1="971.2" y1="1854.5" x2="973.8" y2="1854.5" stroke="#000" stroke-width="4.8" stroke-linecap="round"/>
<line x1="971.2" y1="1780.3" x2="973.8" y2="1780.3" stroke="#000" stroke-opacity="0.38" stroke-width="6.1" stroke-linecap="round"/>
<line x1="971.2" y1="1780.3" x2="973.8" y2="1780.3" stroke="#000" stroke-width="4.8" stroke-linecap="round"/>
<line x1="971.2" y1="1706.1" x2="973.8" y2="1706.1" stroke="#000" stroke-opacity="0.38" stroke-width="6.1" stroke-linecap="round"/>
<line x1="971.2" y1="1706.1" x2="973.8" y2="1706.1" stroke="#000" stroke-width="4.8" stroke-linecap="round"/>
<line x1="971.2" y1="1631.9" x2="973.8" y2="1631.9" stroke="#000" stroke-opacity="0.38" stroke-width="6.1" stroke-linecap="round"/>
<line x1="971.2" y1="1631.9" x2="973.8" y2="1631.9" stroke="#000" stroke-width="4.8" stroke-linecap="round"/>
<line x1="971.2" y1="1557.7" x2="973.8" y2="1557.7" stroke="#000" stroke-opacity="0.38" stroke-width="6.1" stroke-linecap="round"/>
<line x1="971.2" y1="1557.7" x2="973.8" y2="1557.7" stroke="#000" stroke-width="4.8" stroke-linecap="round"/>
<line x1="971.2" y1="1483.5" x2="973.8" y2="1483.5" stroke="#000" stroke-opacity="0.38" stroke-width="6.1" stroke-linecap="round"/>
<line x1="971.2" y1="1483.5" x2="973.8" y2="1483.5" stroke="#000" stroke-width="4.8" stroke-linecap="round"/>
<line x1="1703.8" y1="1520.6" x2="1706.7" y2="1520.6" stroke="#000" stroke-width="1.6" stroke-linecap="butt"/>
<line x1="1703.8" y1="1594.8" x2="1706.7" y2="1594.8" stroke="#000" stroke-width="1.6" stroke-linecap="butt"/>
<line x1="1703.8" y1="1669" x2="1706.7" y2="1669" stroke="#000" stroke-width="1.6" stroke-linecap="butt"/>
<line x1="1703.8" y1="1743.2" x2="1706.7" y2="1743.2" stroke="#000" stroke-width="1.6" stroke-linecap="butt"/>
<line x1="1703.8" y1="1817.4" x2="1706.7" y2="1817.4" stroke="#000" stroke-width="1.6" stroke-linecap="butt"/>
<line x1="1703.8" y1="1891.6" x2="1706.7" y2="1891.6" stroke="#000" stroke-width="1.6" stroke-linecap="butt"/>
<line x1="1703.8" y1="1965.8" x2="1706.7" y2="1965.8" stroke="#000" stroke-width="1.6" stroke-linecap="butt"/>
<line x1="1703.8" y1="2002.9" x2="1706.7" y2="2002.9" stroke="#000" stroke-width="1.6" stroke-linecap="butt"/>
<line x1="1703.8" y1="1928.7" x2="1706.7" y2="1928.7" stroke="#000" stroke-width="1.6" stroke-linecap="butt"/>
<line x1="1703.8" y1="1854.5" x2="1706.7" y2="1854.5" stroke="#000" stroke-width="1.6" stroke-linecap="butt"/>
<line x1="1703.8" y1="1780.3" x2="1706.7" y2="1780.3" stroke="#000" stroke-width="1.6" stroke-linecap="butt"/>
<line x1="1703.8" y1="1706.1" x2="1706.7" y2="1706.1" stroke="#000" stroke-width="1.6" stroke-linecap="butt"/>
<line x1="1703.8" y1="1631.9" x2="1706.7" y2="1631.9" stroke="#000" stroke-width="1.6" stroke-linecap="butt"/>
<line x1="1703.8" y1="1557.7" x2="1706.7" y2="1557.7" stroke="#000" stroke-width="1.6" stroke-linecap="butt"/>
<line x1="1703.8" y1="1483.5" x2="1706.7" y2="1483.5" stroke="#000" stroke-width="1.6" stroke-linecap="butt"/>
<line x1="1118.25" y1="2040.6" x2="1118.25" y2="2029.9" stroke="#000" stroke-opacity="0.38" stroke-width="5.9" stroke-linecap="round"/>
<line x1="1118.25" y1="2040.6" x2="1118.25" y2="2029.9" stroke="#000" stroke-width="4.6" stroke-linecap="round"/>
<line x1="1263.75" y1="2040.6" x2="1263.75" y2="2029.9" stroke="#000" stroke-opacity="0.38" stroke-width="5.9" stroke-linecap="round"/>
<line x1="1263.75" y1="2040.6" x2="1263.75" y2="2029.9" stroke="#000" stroke-width="4.6" stroke-linecap="round"/>
<line x1="1410.75" y1="2040.6" x2="1410.75" y2="2029.9" stroke="#000" stroke-opacity="0.38" stroke-width="5.9" stroke-linecap="round"/>
<line x1="1410.75" y1="2040.6" x2="1410.75" y2="2029.9" stroke="#000" stroke-width="4.6" stroke-linecap="round"/>
<line x1="1557" y1="2040.6" x2="1557" y2="2029.9" stroke="#000" stroke-opacity="0.38" stroke-width="5.9" stroke-linecap="round"/>
<line x1="1557" y1="2040.6" x2="1557" y2="2029.9" stroke="#000" stroke-width="4.6" stroke-linecap="round"/>
<line x1="1044.5" y1="2040.6" x2="1044.5" y2="2035.9" stroke="#000" stroke-opacity="0.38" stroke-width="5.9" stroke-linecap="round"/>
<line x1="1044.5" y1="2040.6" x2="1044.5" y2="2035.9" stroke="#000" stroke-width="4.6" stroke-linecap="round"/>
<line x1="1191.25" y1="2040.6" x2="1191.25" y2="2035.9" stroke="#000" stroke-opacity="0.38" stroke-width="5.9" stroke-linecap="round"/>
<line x1="1191.25" y1="2040.6" x2="1191.25" y2="2035.9" stroke="#000" stroke-width="4.6" stroke-linecap="round"/>
<line x1="1337" y1="2040.6" x2="1337" y2="2035.9" stroke="#000" stroke-opacity="0.38" stroke-width="5.9" stroke-linecap="round"/>
<line x1="1337" y1="2040.6" x2="1337" y2="2035.9" stroke="#000" stroke-width="4.6" stroke-linecap="round"/>
<line x1="1483.25" y1="2040.6" x2="1483.25" y2="2035.9" stroke="#000" stroke-opacity="0.38" stroke-width="5.9" stroke-linecap="round"/>
<line x1="1483.25" y1="2040.6" x2="1483.25" y2="2035.9" stroke="#000" stroke-width="4.6" stroke-linecap="round"/>
<line x1="1630" y1="2040.6" x2="1630" y2="2035.9" stroke="#000" stroke-opacity="0.38" stroke-width="5.9" stroke-linecap="round"/>
<line x1="1630" y1="2040.6" x2="1630" y2="2035.9" stroke="#000" stroke-width="4.6" stroke-linecap="round"/>
<text transform="translate(965.3 1453.57) scale(0.95 1)" text-anchor="end" font-family='"Liberation Sans", Arial, Helvetica, sans-serif' font-weight="bold" font-size="27">11</text>
<text transform="translate(965.3 1527.77) scale(0.95 1)" text-anchor="end" font-family='"Liberation Sans", Arial, Helvetica, sans-serif' font-weight="bold" font-size="27">10</text>
<text transform="translate(965.3 1601.97) scale(0.95 1)" text-anchor="end" font-family='"Liberation Sans", Arial, Helvetica, sans-serif' font-weight="bold" font-size="27">9</text>
<text transform="translate(965.3 1676.17) scale(0.95 1)" text-anchor="end" font-family='"Liberation Sans", Arial, Helvetica, sans-serif' font-weight="bold" font-size="27">8</text>
<text transform="translate(965.3 1750.37) scale(0.95 1)" text-anchor="end" font-family='"Liberation Sans", Arial, Helvetica, sans-serif' font-weight="bold" font-size="27">7</text>
<text transform="translate(965.3 1824.57) scale(0.95 1)" text-anchor="end" font-family='"Liberation Sans", Arial, Helvetica, sans-serif' font-weight="bold" font-size="27">6</text>
<text transform="translate(965.3 1898.77) scale(0.95 1)" text-anchor="end" font-family='"Liberation Sans", Arial, Helvetica, sans-serif' font-weight="bold" font-size="27">5</text>
<text transform="translate(965.3 1972.97) scale(0.95 1)" text-anchor="end" font-family='"Liberation Sans", Arial, Helvetica, sans-serif' font-weight="bold" font-size="27">4</text>
<text transform="translate(965.3 2047.17) scale(0.95 1)" text-anchor="end" font-family='"Liberation Sans", Arial, Helvetica, sans-serif' font-weight="bold" font-size="27">3</text>
<text transform="translate(971.75 2073.9) scale(0.94 1)" text-anchor="middle" font-family='"Liberation Sans", Arial, Helvetica, sans-serif' font-weight="bold" font-size="26.5">8</text>
<text transform="translate(1118.25 2073.9) scale(0.94 1)" text-anchor="middle" font-family='"Liberation Sans", Arial, Helvetica, sans-serif' font-weight="bold" font-size="26.5">10</text>
<text transform="translate(1263.75 2073.9) scale(0.94 1)" text-anchor="middle" font-family='"Liberation Sans", Arial, Helvetica, sans-serif' font-weight="bold" font-size="26.5">12</text>
<text transform="translate(1410.75 2073.9) scale(0.94 1)" text-anchor="middle" font-family='"Liberation Sans", Arial, Helvetica, sans-serif' font-weight="bold" font-size="26.5">14</text>
<text transform="translate(1557 2073.9) scale(0.94 1)" text-anchor="middle" font-family='"Liberation Sans", Arial, Helvetica, sans-serif' font-weight="bold" font-size="26.5">16</text>
<text transform="translate(1703.75 2073.9) scale(0.94 1)" text-anchor="middle" font-family='"Liberation Sans", Arial, Helvetica, sans-serif' font-weight="bold" font-size="26.5">18</text>
<text x="1444.5" y="1516.5" text-anchor="middle" font-family='"Liberation Sans", Arial, Helvetica, sans-serif' font-weight="bold" font-size="44" stroke="#000" stroke-opacity="0.35" stroke-width="0.9" paint-order="stroke" stroke-linejoin="round">Z=8</text>
<text transform="translate(916.6 1580.4) rotate(-90)" text-anchor="middle" font-family='"Liberation Sans", Arial, Helvetica, sans-serif' font-weight="bold" font-size="35.2" stroke="#000" stroke-opacity="0.35" stroke-width="0.9" paint-order="stroke">frequency</text>
<text transform="translate(1289.6 2110.4) scale(1 1)" font-family='"Liberation Sans", Arial, Helvetica, sans-serif' font-weight="bold" font-size="33" stroke="#000" stroke-opacity="0.35" stroke-width="0.9" paint-order="stroke">N<tspan dx="-1.5" dy="14.5" font-size="21" font-weight="normal" font-family='"Liberation Serif", "Times New Roman", Times, serif'>δ</tspan><tspan dx="-1.2" dy="-14.5">/mm</tspan></text>
</g>
</svg>
</body>
</html>
